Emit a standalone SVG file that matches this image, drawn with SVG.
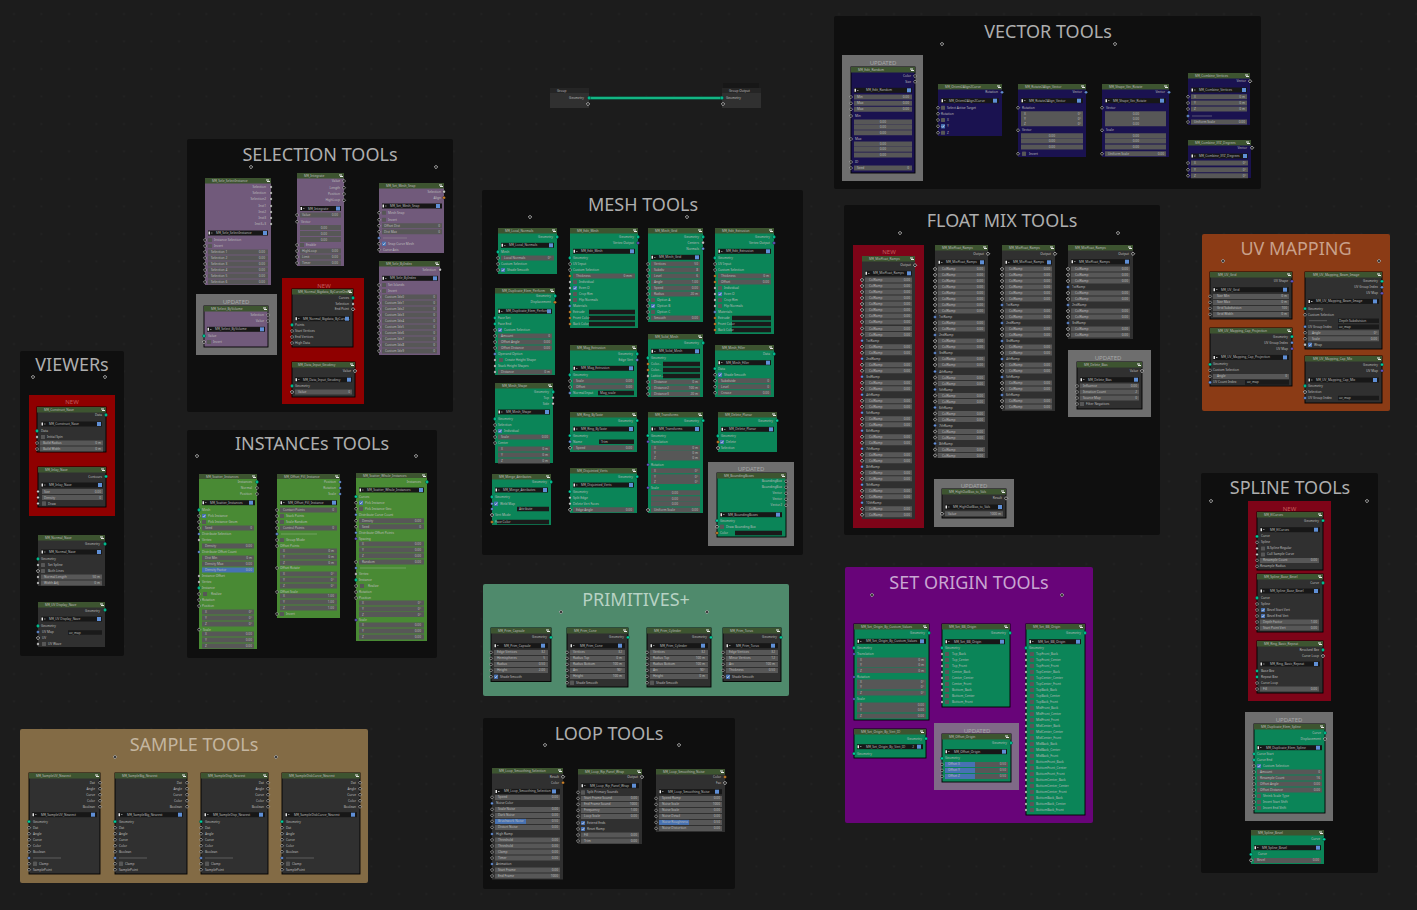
<svg xmlns="http://www.w3.org/2000/svg" width="1417" height="910" viewBox="0 0 1417 910">
<style>
text{font-family:"Noto Sans","Liberation Sans",sans-serif}
.x{font-size:18px;text-anchor:middle;fill:#aeaeae}
.u{font-size:6px;text-anchor:middle;fill:#a8a8a8}
.e{font-size:6px;text-anchor:middle;fill:#c25b5b}
.t,.l,.v{font-size:3.2px;fill:#bdbdbd}
.v{text-anchor:end}
.h{fill:#3d5430}
.d{fill:#303030}.p{fill:#715a7b}.i{fill:#498a34}.m{fill:#0b8558}.n{fill:#1a1250}
.o{stroke:#000;stroke-width:.9}
.s{fill:#171717}
.R,.F,.A,.D,.G,.B,.W,.Y,.Q,.C,.K{fill:none}
.R{stroke:#575757;stroke-width:5}
.F{stroke:#1a1a1a;stroke-width:4.6}
.A{stroke:#4772b3;stroke-width:5}
.D{marker:url(#d)}.G{marker:url(#g)}.B{marker:url(#b)}.W{marker:url(#w)}.Y{marker:url(#y)}.Q{marker:url(#q)}.C{marker:url(#c)}.K{marker:url(#k)}
</style>
<defs>
<pattern id="bg" width="27.5" height="27.5" patternUnits="userSpaceOnUse"><rect width="27.5" height="27.5" fill="#1c1c1c"/><circle cx="14" cy="14" r="1" fill="#232323"/></pattern>
<marker id="d" markerUnits="userSpaceOnUse" markerWidth="5" markerHeight="5" refX="2.5" refY="2.5"><path d="M2.5 .8L4.2 2.5 2.5 4.2 .8 2.5Z" fill="#222" stroke="#d8d8d8" stroke-width=".5"/></marker>
<marker id="g" markerUnits="userSpaceOnUse" markerWidth="5" markerHeight="5" refX="2.5" refY="2.5"><circle cx="2.5" cy="2.5" r="1.4" fill="#00d6a3" stroke="#111" stroke-width=".3"/></marker>
<marker id="b" markerUnits="userSpaceOnUse" markerWidth="5" markerHeight="5" refX="2.5" refY="2.5"><circle cx="2.5" cy="2.5" r="1.3" fill="#6d9be8" stroke="#111" stroke-width=".3"/></marker>
<marker id="w" markerUnits="userSpaceOnUse" markerWidth="5" markerHeight="5" refX="2.5" refY="2.5"><circle cx="2.5" cy="2.5" r="1.2" fill="#dcdcdc" stroke="#111" stroke-width=".3"/></marker>
<marker id="y" markerUnits="userSpaceOnUse" markerWidth="5" markerHeight="5" refX="2.5" refY="2.5"><circle cx="2.5" cy="2.5" r="1.3" fill="#d88a2e" stroke="#111" stroke-width=".3"/></marker>
<marker id="q" markerUnits="userSpaceOnUse" markerWidth="5" markerHeight="5" refX="2.5" refY="2.5"><circle cx="2.5" cy="2.5" r="1.3" fill="#6a5ad0" stroke="#111" stroke-width=".3"/></marker>
<marker id="c" markerUnits="userSpaceOnUse" markerWidth="5" markerHeight="5" refX="2.5" refY="2.5"><rect x=".5" y=".5" width="4" height="4" rx=".5" fill="#575757"/></marker>
<marker id="k" markerUnits="userSpaceOnUse" markerWidth="5" markerHeight="5" refX="2.5" refY="2.5"><rect x=".5" y=".5" width="4" height="4" rx=".5" fill="#4772b3"/><path d="M1.3 2.6L2.3 3.6 3.8 1.4" fill="none" stroke="#fff" stroke-width=".6"/></marker>
<path id="i" d="M1 1.5h3v1h-3zM2 3h3v1h-3z" fill="#e8e8e8"/>
<path id="pp" d="M.5 1h1.5v3h-1.5zM3 2.2h1.5v.6h-1.5z" fill="#e8e8e8"/>
<rect id="qq" y=".5" width="4" height="4" fill="#5f8fd6"/>
<g id="r5"><path class="D" d="M0 0h.01"/><path class="R" d="M3 0H50"/><text class="l" x="7" y="1">ColRamp</text><text class="v" x="48" y="1">0.00</text></g>
<g id="r6"><path class="D" d="M0 0h.01"/><path class="R" d="M3 0H62"/><text class="l" x="7" y="1">ColRamp</text><text class="v" x="60" y="1">0.00</text></g>
<g id="m5"><path class="B" d="M0 0h.01"/><use href="#r5" y="6"/><use href="#r5" y="12"/></g>
<g id="m6"><path class="B" d="M0 0h.01"/><use href="#r6" y="6"/><use href="#r6" y="12"/></g>
<g id="sm"><path class="G" d="M0 48.700h.01"/><path class="D" d="M0 54.700V60.700V66.700V72.700V78.700"/><path class="B" d="M0 85h.01"/><path class="D" d="M0 90.700V96.700"/><path class="C" d="M6 90.700h.01"/><path d="M4 85H32" stroke="#888" stroke-width=".5"/><text class="l"><tspan x="4" y="49.700">Geometry</tspan><tspan x="4" y="55.700">Dat</tspan><tspan x="4" y="61.700">Angle</tspan><tspan x="4" y="67.700">Curve</tspan><tspan x="4" y="73.700">Color</tspan><tspan x="4" y="79.700">Boolean</tspan><tspan x="10" y="91.700">Clamp</tspan><tspan x="4" y="97.700">SamplePoint</tspan></text></g>
</defs>
<rect width="1417" height="910" fill="url(#bg)"/>
<g id="frames">
<rect x="20" y="351" width="104" height="305" rx="2" fill="#0f0f0f"/>
<rect x="187" y="139" width="266" height="273" rx="2" fill="#0f0f0f"/>
<rect x="187" y="430" width="250" height="228" rx="2" fill="#0f0f0f"/>
<rect x="482" y="190" width="321" height="365" rx="2" fill="#0f0f0f"/>
<rect x="834" y="16" width="427" height="173" rx="2" fill="#0f0f0f"/>
<rect x="844" y="205" width="316" height="330" rx="2" fill="#0f0f0f"/>
<rect x="1202" y="234" width="188" height="177" rx="2" fill="#8b3b15"/>
<rect x="1201" y="473" width="177" height="400" rx="2" fill="#0f0f0f"/>
<rect x="845" y="567" width="248" height="256" rx="2" fill="#680479"/>
<rect x="483" y="584" width="306" height="112" rx="2" fill="#4f8a6c"/>
<rect x="483" y="718" width="252" height="171" rx="2" fill="#0f0f0f"/>
<rect x="20" y="729" width="348" height="154" rx="2" fill="#836b45"/>
<text class="x" x="72" y="371">VIEWERs</text>
<text class="x" x="320" y="161">SELECTION TOOLs</text>
<text class="x" x="312" y="450">INSTANCEs TOOLs</text>
<text class="x" x="643" y="211">MESH TOOLs</text>
<text class="x" x="1048" y="38">VECTOR TOOLs</text>
<text class="x" x="1002" y="227">FLOAT MIX TOOLs</text>
<text class="x" x="1296" y="255" style="fill:#c9a08a">UV MAPPING</text>
<text class="x" x="1290" y="494">SPLINE TOOLs</text>
<text class="x" x="969" y="589" style="fill:#c9a6d2">SET ORIGIN TOOLs</text>
<text class="x" x="636" y="606" style="fill:#b7d2c4">PRIMITIVES+</text>
<text class="x" x="609" y="740">LOOP TOOLs</text>
<text class="x" x="194" y="751" style="fill:#c4b6a0">SAMPLE TOOLs</text>
<rect x="29" y="395" width="86" height="121" fill="#8f0000"/><text class="e" x="72" y="404">NEW</text>
<rect x="282" y="278" width="82" height="126" fill="#8f0000"/><text class="e" x="324" y="288">NEW</text>
<rect x="853" y="245" width="71" height="283" fill="#7e0418"/><text class="e" x="889" y="254">NEW</text>
<rect x="1248" y="501" width="83" height="200" fill="#7e0418"/><text class="e" x="1289.5" y="511">NEW</text>
<rect x="196" y="294" width="81" height="61" fill="#6e6e6e"/><text class="u" x="236" y="304">UPDATED</text>
<rect x="708" y="462" width="86" height="84" fill="#6e6e6e"/><text class="u" x="751" y="471">UPDATED</text>
<rect x="842" y="55" width="81" height="126" fill="#6e6e6e"/><text class="u" x="883" y="65">UPDATED</text>
<rect x="1068" y="350" width="83" height="67" fill="#6e6e6e"/><text class="u" x="1108" y="360">UPDATED</text>
<rect x="934" y="479" width="80" height="48" fill="#6e6e6e"/><text class="u" x="974" y="488">UPDATED</text>
<rect x="1245" y="712" width="88" height="109" fill="#6e6e6e"/><text class="u" x="1289" y="722">UPDATED</text>
<rect x="934" y="723" width="85" height="67" fill="#7f6a87"/><text class="u" x="977" y="733">UPDATED</text>
<path class="D" d="M33 377h.01M105 377h.01M251 167h.01M436 167h.01M197 456h.01M416 456h.01M530 217h.01M687 217h.01M942 44h.01M1115 44h.01M900 233h.01M1118 233h.01M1223 261h.01M1379 261h.01M1211 501h.01M1367 501h.01M872 595h.01M1062 595h.01M561 612h.01M707 612h.01M545 745h.01M679 745h.01M115 757h.01M276 757h.01"/>
</g>
<g id="connectors"><path d="M589 98H722" stroke="#0a5c46" stroke-width="3.4"/><path d="M589 98H722" stroke="#13b583" stroke-width="2"/></g>
<g id="group-in" transform="translate(550,88)"><rect class="d" width="39" height="20"/><rect width="39" height="5" fill="#252525"/><text class="t" x="7" y="3.800">Group</text><text class="v" x="34" y="11">Geometry</text><path class="G" d="M39 10h.01"/><path class="D" d="M38 16h.01"/></g>
<g id="group-out" transform="translate(722,88)"><rect x="1" y="-5" width="36" height="5" class="s"/><rect class="d" width="39" height="20"/><rect width="39" height="5" fill="#252525"/><text class="t" x="7" y="3.800">Group Output</text><text class="l" x="4" y="11">Geometry</text><path class="G" d="M0 10h.01"/><path class="D" d="M1 16h.01"/></g>

<g id="v1" transform="translate(37,407)"><rect class="d o" width="69" height="45"/><rect class="h" width="69" height="5.5"/><text class="t" x="7" y="3.8">MR_Construct_Nave</text><use href="#i" x="63"/><rect class="s" x="4" y="14.5" width="61" height="5"/><use href="#pp" x="4" y="14.5"/><text class="t" x="12" y="18">MR_Construct_Nave</text><use href="#qq" x="60" y="14.5"/><path class="R" d="M3 36H66M3 42H66"/><path class="C" d="M6 30h.01"/><path class="G" d="M69 8h.01M0 24h.01"/><path class="W" d="M0 30h.01"/><path class="D" d="M0 36V42"/><text class="v"><tspan x="65" y="9">Data</tspan><tspan x="64" y="37">0 m</tspan><tspan x="64" y="43">0 m</tspan></text><text class="l"><tspan x="4" y="25">Data</tspan><tspan x="10" y="31">Initial Spin</tspan><tspan x="6" y="37">Build Radius</tspan><tspan x="6" y="43">Build Width</tspan></text></g>
<g id="v2" transform="translate(38,467)"><rect class="d o" width="68" height="40"/><rect class="h" width="68" height="5.5"/><text class="t" x="7" y="3.8">MR_Inlay_Nave</text><use href="#i" x="62"/><rect class="s" x="3" y="15.5" width="62" height="5"/><use href="#pp" x="3" y="15.5"/><text class="t" x="11" y="19">MR_Inlay_Nave</text><use href="#qq" x="60" y="15.5"/><path class="R" d="M4 24.5H65M4 30.5H65"/><path class="C" d="M6 36.5h.01"/><path class="G" d="M68 9.5h.01"/><path class="W" d="M0 24.5V30.5V36.5"/><text class="v"><tspan x="64" y="10.500">Contours</tspan><tspan x="63" y="25.5">0.00</tspan><tspan x="63" y="31.5">0</tspan></text><text class="l"><tspan x="6" y="25.5">Size</tspan><tspan x="6" y="31.5">Density</tspan><tspan x="10" y="37.5">Draw</tspan></text></g>
<g id="v3" transform="translate(38,535)"><rect class="d" width="67" height="51"/><rect class="h" width="67" height="5.5"/><text class="t" x="7" y="3.8">MR_Normal_Nave</text><use href="#i" x="61"/><rect class="s" x="3" y="14.5" width="61" height="5"/><use href="#pp" x="3" y="14.5"/><text class="t" x="11" y="18">MR_Normal_Nave</text><use href="#qq" x="59" y="14.5"/><path class="R" d="M3 42H64M3 48H64"/><path class="C" d="M5 30V36"/><path class="G" d="M67 9h.01M0 24h.01"/><path class="W" d="M0 30V42V48"/><path class="D" d="M0 36h.01"/><text class="v"><tspan x="62" y="10">Geometry</tspan><tspan x="62" y="43">50 m</tspan><tspan x="62" y="49">0 m</tspan></text><text class="l"><tspan x="3" y="25">Geometry</tspan><tspan x="10" y="31">Set Spline</tspan><tspan x="10" y="37">Both Lines</tspan><tspan x="6" y="43">Normal Length</tspan><tspan x="6" y="49">Width Adj</tspan></text></g>
<g id="v4" transform="translate(38,602)"><rect class="d" width="67" height="45"/><rect class="h" width="67" height="5.5"/><text class="t" x="7" y="3.8">MR_UV Display_Nave</text><use href="#i" x="61"/><rect class="s" x="3" y="14.5" width="61" height="5"/><use href="#pp" x="3" y="14.5"/><text class="t" x="11" y="18">MR_UV Display_Nave</text><use href="#qq" x="59" y="14.5"/><path class="F" d="M30 30.500H64"/><path class="C" d="M6 42h.01"/><path class="G" d="M67 8h.01M0 24h.01"/><path class="B" d="M0 30h.01"/><path class="D" d="M0 36h.01"/><path class="W" d="M0 42h.01"/><text class="v" x="62" y="10">Geometry</text><text class="l"><tspan x="3" y="25">Geometry</tspan><tspan x="4" y="31">UV Map</tspan><tspan x="31" y="31.500">uv_map</tspan><tspan x="4" y="37">UV</tspan><tspan x="10" y="43">UV Wave</tspan></text></g>

<g id="s1" transform="translate(205,178)"><rect class="p" width="66" height="107"/><rect class="h" width="66" height="5.5"/><text class="t" x="7" y="3.8">MR_Sele_SelectInstance</text><use href="#i" x="60"/><rect class="s" x="3" y="52.5" width="60" height="5"/><use href="#pp" x="3" y="52.5"/><text class="t" x="11" y="56">MR_Sele_SelectInstance</text><use href="#qq" x="58" y="52.5"/><path d="M33 71.5V107" stroke="#575757" stroke-width="60" stroke-dasharray="5 1" fill="none"/><path class="C" d="M5 62V68"/><path class="W" d="M66 9V15V21V28V34V40V46"/><path class="D" d="M0 62V68V74V80V86V92V98V104"/><text class="v"><tspan x="61" y="10">Selection</tspan><tspan x="61" y="16">Selection</tspan><tspan x="61" y="22">Selection2</tspan><tspan x="61" y="29">Inst1</tspan><tspan x="61" y="35">Inst2</tspan><tspan x="61" y="41">Inst3</tspan><tspan x="61" y="47">Inst3+3</tspan><tspan x="60" y="75">0.00</tspan><tspan x="60" y="81">0.00</tspan><tspan x="60" y="87">0.00</tspan><tspan x="60" y="93">0.00</tspan><tspan x="60" y="99">0.00</tspan><tspan x="60" y="105">0.00</tspan></text><text class="l"><tspan x="9" y="63">Instance Selection</tspan><tspan x="9" y="69">Invert</tspan><tspan x="6" y="75">Selection 1</tspan><tspan x="6" y="81">Selection 2</tspan><tspan x="6" y="87">Selection 3</tspan><tspan x="6" y="93">Selection 4</tspan><tspan x="6" y="99">Selection 5</tspan><tspan x="6" y="105">Selection 6</tspan></text></g>
<g id="s2" transform="translate(297,173)"><rect class="p" width="47" height="93"/><rect class="h" width="47" height="5.5"/><text class="t" x="7" y="3.8">MR_Integrate</text><use href="#i" x="41"/><rect class="s" x="3" y="33" width="41" height="5"/><use href="#pp" x="3" y="33"/><text class="t" x="11" y="36.500">MR_Integrate</text><use href="#qq" x="39" y="33"/><path class="R" d="M3 42H44M3 54.500H44M3 60.500H44M3 66.500H44M3 78H44M3 84H44M3 90H44"/><path class="C" d="M5 72h.01"/><path class="D" d="M47 8V14.700V21V27.300M0 42V48.700V72V78V84V90"/><text class="v"><tspan x="43" y="9">Value</tspan><tspan x="43" y="15.700">Length</tspan><tspan x="43" y="22">Position</tspan><tspan x="43" y="28.300">HighLoop</tspan><tspan x="41" y="43">0.00</tspan><tspan x="30" y="55.500">0.00</tspan><tspan x="30" y="61.500">0.00</tspan><tspan x="30" y="67.500">0.00</tspan><tspan x="41" y="79">0.00</tspan><tspan x="41" y="85">0.00</tspan><tspan x="41" y="91">0.00</tspan></text><text class="l"><tspan x="5" y="43">Value</tspan><tspan x="4" y="49.700">Vector</tspan><tspan x="9" y="73">Enable</tspan><tspan x="5" y="79">HighLoop</tspan><tspan x="5" y="85">Limit</tspan><tspan x="5" y="91">Timer</tspan></text></g>
<g id="s3" transform="translate(379,183)"><rect class="p" width="65" height="70"/><rect class="h" width="65" height="5.5"/><text class="t" x="7" y="3.8">MR_Set_Mesh_Snap</text><use href="#i" x="59"/><rect class="s" x="3" y="20.500" width="60" height="5"/><use href="#pp" x="3" y="20.500"/><text class="t" x="11" y="24">MR_Set_Mesh_Snap</text><use href="#qq" x="57" y="20.500"/><path class="R" d="M3 42.700H63M3 48.700H63"/><path class="C" d="M5 29.700V36.700"/><path class="K" d="M5 60.700h.01"/><path class="W" d="M65 8.700h.01"/><path class="Y" d="M65 14.700h.01"/><path class="D" d="M0 29.700V36.700V42.700V48.700V60.700V66.700"/><path class="B" d="M0 55h.01"/><path d="M4 55H28" stroke="#999" stroke-width=".5"/><text class="v"><tspan x="62" y="9.700">Selection</tspan><tspan x="62" y="15.700">Align</tspan><tspan x="61" y="43.700">0</tspan><tspan x="61" y="49.700">0</tspan></text><text class="l"><tspan x="9" y="30.700">Mesh Snap</tspan><tspan x="9" y="37.700">Invert</tspan><tspan x="5" y="43.700">Offset Dist</tspan><tspan x="5" y="49.700">Dist Max</tspan><tspan x="9" y="61.700">Snap Curve Mesh</tspan><tspan x="4" y="67.700">Curve Axis</tspan></text></g>
<g id="s4" transform="translate(379,261)"><rect class="p" width="61" height="94"/><rect class="h" width="61" height="5.5"/><text class="t" x="7" y="3.8">MR_Sele_ByIndex</text><use href="#i" x="55"/><rect class="s" x="3" y="14.800" width="56" height="5"/><use href="#pp" x="3" y="14.800"/><text class="t" x="11" y="18.300">MR_Sele_ByIndex</text><use href="#qq" x="54" y="14.800"/><path d="M30.500 33.500V93" stroke="#575757" stroke-width="55" stroke-dasharray="5 1" fill="none"/><path class="C" d="M5 24V30"/><path class="W" d="M61 8.700h.01"/><path class="D" d="M0 24V30V36V42V48V54V60V66V72V78V84V90"/><text class="v"><tspan x="57" y="9.700">Selection</tspan><tspan x="56" y="37">0</tspan><tspan x="56" y="43">0</tspan><tspan x="56" y="49">0</tspan><tspan x="56" y="55">0</tspan><tspan x="56" y="61">0</tspan><tspan x="56" y="67">0</tspan><tspan x="56" y="73">0</tspan><tspan x="56" y="79">0</tspan><tspan x="56" y="85">0</tspan><tspan x="56" y="91">0</tspan></text><text class="l"><tspan x="9" y="25">Set Islands</tspan><tspan x="9" y="31">Invert</tspan><tspan x="6" y="37">Custom Idx0</tspan><tspan x="6" y="43">Custom Idx1</tspan><tspan x="6" y="49">Custom Idx2</tspan><tspan x="6" y="55">Custom Idx3</tspan><tspan x="6" y="61">Custom Idx4</tspan><tspan x="6" y="67">Custom Idx5</tspan><tspan x="6" y="73">Custom Idx6</tspan><tspan x="6" y="79">Custom Idx7</tspan><tspan x="6" y="85">Custom Idx8</tspan><tspan x="6" y="91">Custom Idx9</tspan></text></g>
<g id="s5" transform="translate(204,306)"><rect class="p o" width="64" height="41"/><rect class="h" width="64" height="5.5"/><text class="t" x="7" y="3.8">MR_Select_ByVolume</text><use href="#i" x="58"/><rect class="s" x="3" y="20.800" width="58" height="5"/><use href="#pp" x="3" y="20.800"/><text class="t" x="11" y="24.300">MR_Select_ByVolume</text><use href="#qq" x="56" y="20.800"/><path class="C" d="M5 36h.01"/><path class="D" d="M64 9V15M0 36h.01"/><path class="G" d="M0 30h.01"/><text class="v"><tspan x="60" y="10">Selection</tspan><tspan x="60" y="16">Value</tspan></text><text class="l"><tspan x="4" y="31">Value</tspan><tspan x="9" y="37">Invert</tspan></text></g>
<g id="s6" transform="translate(292,289)"><rect class="d o" width="61" height="58"/><rect class="h" width="61" height="5.5"/><text class="t" x="6" y="3.800">MR_Normal_Bigdata_ByCurveOrder</text><use href="#i" x="55"/><rect class="s" x="3" y="27.200" width="55" height="5"/><use href="#pp" x="3" y="27.200"/><text class="t" x="11" y="30.700">MR_Normal_Bigdata_ByCurve...</text><use href="#qq" x="53" y="27.200"/><path class="G" d="M61 9h.01M0 36h.01"/><path class="W" d="M61 15h.01"/><path class="D" d="M61 20.300h.01M0 42V48V54"/><text class="v"><tspan x="57" y="10">Curves</tspan><tspan x="57" y="16">Selection</tspan><tspan x="57" y="21.300">End Point</tspan></text><text class="l"><tspan x="3" y="37">Points</tspan><tspan x="3" y="43">Start Vertices</tspan><tspan x="3" y="49">End Vertices</tspan><tspan x="3" y="55">High Data</tspan></text></g>
<g id="s7" transform="translate(292,362)"><rect class="d o" width="63" height="35"/><rect class="h" width="63" height="5.5"/><text class="t" x="6" y="3.800">MR_Data_Input_Geodesy</text><use href="#i" x="57"/><rect class="s" x="3" y="15.200" width="57" height="5"/><use href="#pp" x="3" y="15.200"/><text class="t" x="11" y="18.700">MR_Data_Input_Geodesy</text><use href="#qq" x="55" y="15.200"/><path class="R" d="M3 30H60"/><path class="G" d="M0 24h.01"/><path class="D" d="M63 9h.01M0 30h.01"/><text class="v"><tspan x="59" y="10">Value</tspan><tspan x="58" y="31">0</tspan></text><text class="l"><tspan x="3" y="25">Geometry</tspan><tspan x="6" y="31">Value</tspan></text></g>

<g id="i1" transform="translate(199,474)"><rect class="i" width="58" height="175"/><rect class="h" width="58" height="5"/><text class="t" x="7" y="3.800">MR_Scatter_Instances</text><use href="#i" x="52"/><rect class="s" x="3" y="26.200" width="53" height="5"/><use href="#pp" x="3" y="26.200"/><text class="t" x="11" y="29.700">MR_Scatter_Instances</text><use href="#qq" x="50" y="26.200"/><path class="R" d="M3 54H55M3 72H55M3 84H55M3 90H55M3 138H55M3 144H55M3 150H55M3 160H55M3 166H55M3 172H55"/><path class="A" d="M3 96H55"/><path class="K" d="M5 42h.01"/><path class="C" d="M5 48h.01M6 120h.01"/><path class="G" d="M58 8h.01M0 36h.01M0 114h.01"/><path class="D" d="M58 14V20M0 42V48V54V120V126V132V155.600"/><path class="B" d="M0 60V78"/><path class="W" d="M0 66V102V108"/><text class="v"><tspan x="53" y="9">Instances</tspan><tspan x="53" y="15">Normal</tspan><tspan x="53" y="21">Position</tspan><tspan x="53" y="55">0</tspan><tspan x="53" y="73">0.00</tspan><tspan x="53" y="85">0 m</tspan><tspan x="53" y="91">0.00</tspan><tspan x="53" y="97">0.00</tspan><tspan x="53" y="139">0°</tspan><tspan x="53" y="145">0°</tspan><tspan x="53" y="151">0°</tspan><tspan x="53" y="161">0.00</tspan><tspan x="53" y="167">0.00</tspan><tspan x="53" y="173">0.00</tspan></text><text class="l"><tspan x="3" y="37">Mesh</tspan><tspan x="9" y="43">Pick Instance</tspan><tspan x="9" y="49">Pick Instance Geom</tspan><tspan x="6" y="55">Seed</tspan><tspan x="3" y="61">Distribute Selection</tspan><tspan x="3" y="67">Vertex</tspan><tspan x="6" y="73">Density</tspan><tspan x="3" y="79">Distribute Offset Count</tspan><tspan x="6" y="85">Dist Min</tspan><tspan x="6" y="91">Density Max</tspan><tspan x="6" y="97">Density Factor</tspan><tspan x="3" y="103">Instance Offset</tspan><tspan x="3" y="109">Vertex</tspan><tspan x="3" y="115">Instance</tspan><tspan x="12" y="121">Realize</tspan><tspan x="3" y="127">Rotation</tspan><tspan x="3" y="133">Position</tspan><tspan x="6" y="139">X</tspan><tspan x="6" y="145">Y</tspan><tspan x="6" y="151">Z</tspan><tspan x="4" y="156.600">Scale</tspan><tspan x="6" y="161">X</tspan><tspan x="6" y="167">Y</tspan><tspan x="6" y="173">Z</tspan></text></g>
<g id="i2" transform="translate(277,474)"><rect class="i" width="63" height="144"/><rect class="h" width="63" height="5"/><text class="t" x="7" y="3.800">MR_Offset_Pill_Instance</text><use href="#i" x="57"/><rect class="s" x="3" y="26.200" width="57" height="5"/><use href="#pp" x="3" y="26.200"/><text class="t" x="11" y="29.700">MR_Offset_Pill_Instance</text><use href="#qq" x="55" y="26.200"/><path class="R" d="M3 36H60M3 54H60M3 77H60M3 83H60M3 89H60M3 100H60M3 106H60M3 112H60M3 122H60M3 128H60M3 134H60"/><path class="C" d="M5 42V48M5 66V140"/><path class="B" d="M63 8V14V20M0 60h.01"/><path class="D" d="M0 36V42V48V54V66V72V94V118V140"/><path d="M4 60H40" stroke="#9bb98f" stroke-width=".5"/><text class="v"><tspan x="59" y="9">Position</tspan><tspan x="59" y="15">Rotation</tspan><tspan x="59" y="21">Scale</tspan><tspan x="57" y="37">0</tspan><tspan x="57" y="55">0</tspan><tspan x="57" y="78">0 m</tspan><tspan x="57" y="84">0 m</tspan><tspan x="57" y="90">0 m</tspan><tspan x="57" y="101">0°</tspan><tspan x="57" y="107">0°</tspan><tspan x="57" y="113">0°</tspan><tspan x="57" y="123">1.00</tspan><tspan x="57" y="129">1.00</tspan><tspan x="57" y="135">1.00</tspan></text><text class="l"><tspan x="6" y="37">Contact Points</tspan><tspan x="9" y="43">Stack Points</tspan><tspan x="9" y="49">Scale Random</tspan><tspan x="6" y="55">Control Points</tspan><tspan x="9" y="67">Group Mode</tspan><tspan x="3" y="73">Offset Points</tspan><tspan x="6" y="78">X</tspan><tspan x="6" y="84">Y</tspan><tspan x="6" y="90">Z</tspan><tspan x="3" y="95">Offset Rotate</tspan><tspan x="6" y="101">X</tspan><tspan x="6" y="107">Y</tspan><tspan x="6" y="113">Z</tspan><tspan x="3" y="119">Offset Scale</tspan><tspan x="6" y="123">X</tspan><tspan x="6" y="129">Y</tspan><tspan x="6" y="135">Z</tspan><tspan x="9" y="141">Invert</tspan></text></g>
<g id="i3" transform="translate(356,473)"><rect class="i" width="71" height="168"/><rect class="h" width="71" height="5"/><text class="t" x="7" y="3.800">MR_Scatter_Whole_Instances</text><use href="#i" x="65"/><rect class="s" x="3" y="14.500" width="65" height="5"/><use href="#pp" x="3" y="14.500"/><text class="t" x="11" y="18">MR_Scatter_Whole_Instances</text><use href="#qq" x="63" y="14.500"/><path class="R" d="M3 47.700H68M3 53.700H68M3 71H68M3 77H68M3 82.700H68M3 89H68M3 130H68M3 136H68M3 141.500H68M3 152H68M3 158H68M3 164H68"/><path class="K" d="M5 29.700h.01"/><path class="C" d="M5 35.700h.01M6 113h.01"/><path class="G" d="M71 9h.01M0 23.700h.01M0 107h.01"/><path class="B" d="M0 41.700V59.700V95"/><path class="Q" d="M0 65.700h.01M0 147h.01"/><path class="W" d="M0 101h.01"/><path class="D" d="M0 29.700V35.700V47.700V53.700V89V113V119V125"/><path d="M4 95H50" stroke="#9bb98f" stroke-width=".5"/><text class="v"><tspan x="65" y="10">Instances</tspan><tspan x="65" y="48.700">0.00</tspan><tspan x="65" y="54.700">0</tspan><tspan x="65" y="72">0.00</tspan><tspan x="65" y="78">0.00</tspan><tspan x="65" y="83.700">0.00</tspan><tspan x="65" y="90">0.00</tspan><tspan x="65" y="131">0°</tspan><tspan x="65" y="137">0°</tspan><tspan x="65" y="142.500">0°</tspan><tspan x="65" y="153">0.00</tspan><tspan x="65" y="159">0.00</tspan><tspan x="65" y="165">0.00</tspan></text><text class="l"><tspan x="3" y="24.700">Curves</tspan><tspan x="9" y="30.700">Pick Instance</tspan><tspan x="9" y="36.700">Pick Instance Geo</tspan><tspan x="3" y="42.700">Distribute Curve Count</tspan><tspan x="6" y="48.700">Density</tspan><tspan x="6" y="54.700">Seed</tspan><tspan x="3" y="60.700">Distribute Offset Points</tspan><tspan x="3" y="66.700">Spacing</tspan><tspan x="6" y="72">X</tspan><tspan x="6" y="78">Y</tspan><tspan x="6" y="83.700">Z</tspan><tspan x="6" y="90">Random</tspan><tspan x="3" y="102">Vertex</tspan><tspan x="3" y="108">Instance</tspan><tspan x="12" y="114">Realize</tspan><tspan x="3" y="120">Rotation</tspan><tspan x="3" y="126">Position</tspan><tspan x="6" y="131">X</tspan><tspan x="6" y="137">Y</tspan><tspan x="6" y="142.500">Z</tspan><tspan x="3" y="148">Scale</tspan><tspan x="6" y="153">X</tspan><tspan x="6" y="159">Y</tspan><tspan x="6" y="165">Z</tspan></text></g>

<g id="m1" transform="translate(498,228)"><rect class="m" width="59" height="46"/><rect class="h" width="59" height="5.500"/><text class="t" x="7" y="3.800">MR_Local_Normals</text><use href="#i" x="53"/><rect class="s" x="3" y="14.800" width="53" height="5"/><use href="#pp" x="3" y="14.800"/><text class="t" x="11" y="18.300">MR_Local_Normals</text><use href="#qq" x="51" y="14.800"/><path class="R" d="M3 30H56"/><path class="K" d="M5 42h.01"/><path class="G" d="M59 9h.01M0 24h.01"/><path class="D" d="M0 30V36V42"/><text class="v"><tspan x="55" y="10">Geometry</tspan><tspan x="53" y="31">0°</tspan></text><text class="l"><tspan x="3" y="25">Mesh</tspan><tspan x="6" y="31">Local Normals</tspan><tspan x="3" y="37">Custom Selection</tspan><tspan x="9" y="43">Shade Smooth</tspan></text></g>
<g id="m2" transform="translate(495,288)"><rect class="m" width="60" height="87"/><rect class="h" width="60" height="5.500"/><text class="t" x="7" y="3.800">MR_Duplicate_Elem_Perform</text><use href="#i" x="54"/><rect class="s" x="3" y="20.800" width="54" height="5"/><use href="#pp" x="3" y="20.800"/><text class="t" x="11" y="24.300">MR_Duplicate_Elem_Perform</text><use href="#qq" x="52" y="20.800"/><path class="R" d="M3 48H57M3 54H57M3 60H57M3 84H57"/><path class="K" d="M5 42h.01"/><path class="C" d="M6 72h.01"/><path class="G" d="M60 8h.01M0 30V36"/><path class="Y" d="M60 14.300h.01"/><path class="D" d="M0 42V48V54V60"/><path class="B" d="M0 66h.01"/><path class="W" d="M0 72V78V84"/><text class="v"><tspan x="56" y="9">Geometry</tspan><tspan x="56" y="15.300">Displacement</tspan><tspan x="55" y="49">0</tspan><tspan x="55" y="55">0.00</tspan><tspan x="55" y="61">0.00</tspan><tspan x="55" y="85">0 m</tspan></text><text class="l"><tspan x="3" y="31">Face Set</tspan><tspan x="3" y="37">Face End</tspan><tspan x="9" y="43">Custom Selection</tspan><tspan x="6" y="49">Amount</tspan><tspan x="6" y="55">Offset Angle</tspan><tspan x="6" y="61">Offset Distance</tspan><tspan x="3" y="67">Operand Option</tspan><tspan x="10" y="73">Create Height Shape</tspan><tspan x="3" y="79">Stack Height Shapes</tspan><tspan x="6" y="85">Distance</tspan></text></g>
<g id="m3" transform="translate(495,383)"><rect class="m" width="58" height="80"/><rect class="h" width="58" height="5.500"/><text class="t" x="7" y="3.800">MR_Mesh_Shape</text><use href="#i" x="52"/><rect class="s" x="3" y="26.500" width="52" height="5"/><use href="#pp" x="3" y="26.500"/><text class="t" x="11" y="30">MR_Mesh_Shape</text><use href="#qq" x="50" y="26.500"/><path class="R" d="M3 54H55M3 66H55M3 72H55M3 78H55"/><path class="K" d="M5 48h.01"/><path class="G" d="M58 9h.01M0 36h.01"/><path class="W" d="M58 14.700V20.700"/><path class="D" d="M0 42V48V54V60"/><text class="v"><tspan x="54" y="10">Geometry</tspan><tspan x="54" y="15.700">Top</tspan><tspan x="54" y="21.700">Side</tspan><tspan x="53" y="55">0.00</tspan><tspan x="53" y="67">0 m</tspan><tspan x="53" y="73">0 m</tspan><tspan x="53" y="79">0 m</tspan></text><text class="l"><tspan x="3" y="37">Geometry</tspan><tspan x="3" y="43">Selection</tspan><tspan x="9" y="49">Individual</tspan><tspan x="6" y="55">Scale</tspan><tspan x="3" y="61">Center</tspan><tspan x="6" y="67">X</tspan><tspan x="6" y="73">Y</tspan><tspan x="6" y="79">Z</tspan></text></g>
<g id="m4" transform="translate(492,474)"><rect class="m" width="59" height="51"/><rect class="h" width="59" height="5.500"/><text class="t" x="7" y="3.800">MR_Merge_Attributes</text><use href="#i" x="53"/><rect class="s" x="3" y="13.500" width="53" height="5"/><use href="#pp" x="3" y="13.500"/><text class="t" x="11" y="17">MR_Merge_Attributes</text><use href="#qq" x="51" y="13.500"/><path class="F" d="M25 35H57M5 48H57"/><path class="K" d="M4 29.700h.01"/><path class="G" d="M59 8h.01M0 23h.01"/><path class="B" d="M0 29.700V35"/><path class="D" d="M0 41h.01"/><path class="Y" d="M0 48h.01"/><text class="v" x="55" y="9">Geometry</text><text class="l"><tspan x="3" y="24">Geometry</tspan><tspan x="8" y="30.700">Weld Map</tspan><tspan x="27" y="36">Attribute</tspan><tspan x="3" y="42">Vert Mode</tspan><tspan x="3" y="49">Face Color</tspan></text></g>
<g id="m5b" transform="translate(570,228)"><rect class="m" width="68" height="100"/><rect class="h" width="68" height="5.500"/><text class="t" x="7" y="3.800">MR_Edit_Mesh</text><use href="#i" x="62"/><rect class="s" x="3" y="20.800" width="62" height="5"/><use href="#pp" x="3" y="20.800"/><text class="t" x="11" y="24.300">MR_Edit_Mesh</text><use href="#qq" x="60" y="20.800"/><path class="R" d="M3 48H65"/><path class="F" d="M19 84H65M19 90H65M19 96H65"/><path class="C" d="M5 54V66V72"/><path class="K" d="M5 60h.01"/><path class="G" d="M68 9h.01M0 30h.01"/><path class="Q" d="M68 15h.01"/><path class="D" d="M0 36V42"/><path class="Y" d="M0 48V84V90V96"/><path class="W" d="M0 54V60V66V72"/><path class="B" d="M0 78h.01"/><text class="v"><tspan x="64" y="10">Geometry</tspan><tspan x="64" y="16">Vertex Output</tspan><tspan x="62" y="49">0 mm</tspan></text><text class="l"><tspan x="3" y="31">Geometry</tspan><tspan x="3" y="37">UV Input</tspan><tspan x="3" y="43">Custom Selection</tspan><tspan x="6" y="49">Thickness</tspan><tspan x="9" y="55">Individual</tspan><tspan x="9" y="61">Even O</tspan><tspan x="9" y="67">Crop Rim</tspan><tspan x="9" y="73">Flip Normals</tspan><tspan x="3" y="79">Materials</tspan><tspan x="3" y="85">Extrude</tspan><tspan x="3" y="91">Front Color</tspan><tspan x="3" y="97">Back Color</tspan></text></g>
<g id="m6b" transform="translate(570,345)"><rect class="m" width="67" height="52"/><rect class="h" width="67" height="5.500"/><text class="t" x="7" y="3.800">MR_Mag_Extrusion</text><use href="#i" x="61"/><rect class="s" x="3" y="20.800" width="61" height="5"/><use href="#pp" x="3" y="20.800"/><text class="t" x="11" y="24.300">MR_Mag_Extrusion</text><use href="#qq" x="59" y="20.800"/><path class="R" d="M3 36H64M3 42H64"/><path class="F" d="M28 48H64"/><path class="G" d="M67 9h.01M0 30h.01"/><path class="B" d="M67 15h.01M0 48h.01"/><path class="D" d="M0 36V42"/><text class="v"><tspan x="63" y="10">Geometry</tspan><tspan x="63" y="16">Edge Vert</tspan><tspan x="62" y="37">0.00</tspan><tspan x="62" y="43">0.00</tspan></text><text class="l"><tspan x="3" y="31">Geometry</tspan><tspan x="6" y="37">Scale</tspan><tspan x="6" y="43">Offset</tspan><tspan x="3" y="49">Normal Input</tspan><tspan x="30" y="49">Mag_scale</tspan></text></g>
<g id="m7" transform="translate(570,412)"><rect class="m" width="67" height="40"/><rect class="h" width="67" height="5.500"/><text class="t" x="7" y="3.800">MR_Ring_ByTaste</text><use href="#i" x="61"/><rect class="s" x="3" y="14.500" width="61" height="5"/><use href="#pp" x="3" y="14.500"/><text class="t" x="11" y="18">MR_Ring_ByTaste</text><use href="#qq" x="59" y="14.500"/><path class="F" d="M29 29.700H64"/><path class="R" d="M3 35.700H64"/><path class="G" d="M67 8.700h.01M0 23.700h.01"/><path class="B" d="M0 29.700h.01"/><path class="D" d="M0 35.700h.01"/><text class="v"><tspan x="63" y="9.700">Geometry</tspan><tspan x="62" y="36.700">0.00</tspan></text><text class="l"><tspan x="3" y="24.700">Geometry</tspan><tspan x="3" y="30.700">Name</tspan><tspan x="31" y="30.700">Trim</tspan><tspan x="6" y="36.700">Speed</tspan></text></g>
<g id="m8" transform="translate(570,468)"><rect class="m" width="67" height="45"/><rect class="h" width="67" height="5.500"/><text class="t" x="7" y="3.800">MR_Disjointed_Verts</text><use href="#i" x="61"/><rect class="s" x="3" y="14.500" width="61" height="5"/><use href="#pp" x="3" y="14.500"/><text class="t" x="11" y="18">MR_Disjointed_Verts</text><use href="#qq" x="59" y="14.500"/><path class="R" d="M3 41.700H64"/><path class="G" d="M67 8.700h.01M0 23.700h.01"/><path class="W" d="M0 29.700V35.700"/><path class="D" d="M0 41.700h.01"/><text class="v"><tspan x="63" y="9.700">Geometry</tspan><tspan x="62" y="42.700">0.00</tspan></text><text class="l"><tspan x="3" y="24.700">Geometry</tspan><tspan x="3" y="30.700">Split Edge</tspan><tspan x="3" y="36.700">Delete Vert Faces</tspan><tspan x="6" y="42.700">Edge Angle</tspan></text></g>
<g id="m9" transform="translate(648,228)"><rect class="m" width="55" height="94"/><rect class="h" width="55" height="5.500"/><text class="t" x="7" y="3.800">MR_Mech_Grid</text><use href="#i" x="49"/><rect class="s" x="3" y="26.800" width="49" height="5"/><use href="#pp" x="3" y="26.800"/><text class="t" x="11" y="30.300">MR_Mech_Grid</text><use href="#qq" x="47" y="26.800"/><path class="R" d="M3 36H52M3 42H52M3 48H52M3 54H52M3 60H52M3 66H52M3 90H52"/><path class="C" d="M5 72V84"/><path class="K" d="M5 78h.01"/><path class="G" d="M55 9h.01"/><path class="W" d="M55 14.700h.01"/><path class="B" d="M55 20.700h.01"/><path class="D" d="M0 36V42V48V54V60V66V72V78V84V90"/><text class="v"><tspan x="51" y="10">Geometry</tspan><tspan x="51" y="15.700">Centers</tspan><tspan x="51" y="21.700">Normals</tspan><tspan x="50" y="37">50</tspan><tspan x="50" y="43">8</tspan><tspan x="50" y="49">6</tspan><tspan x="50" y="55">1.00</tspan><tspan x="50" y="61">0.00</tspan><tspan x="50" y="67">20 m</tspan><tspan x="50" y="91">0.00</tspan></text><text class="l"><tspan x="6" y="37">Vertices</tspan><tspan x="6" y="43">Subdiv</tspan><tspan x="6" y="49">Level</tspan><tspan x="6" y="55">Angle</tspan><tspan x="6" y="61">Speed</tspan><tspan x="6" y="67">Radius</tspan><tspan x="9" y="73">Option A</tspan><tspan x="9" y="79">Option B</tspan><tspan x="9" y="85">Option C</tspan><tspan x="6" y="91">Smooth</tspan></text></g>
<g id="m10" transform="translate(648,334)"><rect class="m" width="55" height="63"/><rect class="h" width="55" height="5.500"/><text class="t" x="7" y="3.800">MR_Solid_Mesh</text><use href="#i" x="49"/><rect class="s" x="3" y="14.800" width="49" height="5"/><use href="#pp" x="3" y="14.800"/><text class="t" x="11" y="18.300">MR_Solid_Mesh</text><use href="#qq" x="47" y="14.800"/><path class="F" d="M15 30H52M15 36H52M15 42H52"/><path class="R" d="M3 48H52M3 54H52M3 60H52"/><path class="G" d="M55 9h.01M0 24h.01"/><path class="Y" d="M0 30V36"/><path class="W" d="M0 42h.01"/><path class="D" d="M0 48V54V60"/><text class="v"><tspan x="51" y="10">Geometry</tspan><tspan x="50" y="49">0 m</tspan><tspan x="50" y="55">100 m</tspan><tspan x="50" y="61">20 m</tspan></text><text class="l"><tspan x="3" y="25">Geometry</tspan><tspan x="3" y="31">Color...</tspan><tspan x="3" y="37">Color...</tspan><tspan x="3" y="43">Lattice...</tspan><tspan x="6" y="49">Distance</tspan><tspan x="6" y="55">Distance2</tspan><tspan x="6" y="61">Distance3</tspan></text></g>
<g id="m11" transform="translate(648,412)"><rect class="m" width="55" height="101"/><rect class="h" width="55" height="5.500"/><text class="t" x="7" y="3.800">MR_Transforms</text><use href="#i" x="49"/><rect class="s" x="3" y="14.500" width="49" height="5"/><use href="#pp" x="3" y="14.500"/><text class="t" x="11" y="18">MR_Transforms</text><use href="#qq" x="47" y="14.500"/><path class="R" d="M3 35.700H52M3 41H52M3 46H52M3 58.700H52M3 64.700H52M3 69.500H52M3 80.700H52M3 86.700H52M3 92H52M3 98H52"/><path class="G" d="M55 8.700h.01M0 23.700h.01"/><path class="Q" d="M0 29.700V52.700V75.700"/><path class="D" d="M0 98h.01"/><text class="v"><tspan x="51" y="9.700">Geometry</tspan><tspan x="50" y="36.700">0 m</tspan><tspan x="50" y="42">0 m</tspan><tspan x="50" y="47">0 m</tspan><tspan x="50" y="59.700">0°</tspan><tspan x="50" y="65.700">0°</tspan><tspan x="50" y="70.500">0°</tspan><tspan x="30" y="81.700">0.00</tspan><tspan x="30" y="87.700">0.00</tspan><tspan x="30" y="93">0.00</tspan><tspan x="50" y="99">0.00</tspan></text><text class="l"><tspan x="3" y="24.700">Geometry</tspan><tspan x="3" y="30.700">Translation</tspan><tspan x="6" y="36.700">X</tspan><tspan x="6" y="42">Y</tspan><tspan x="6" y="47">Z</tspan><tspan x="3" y="53.700">Rotation</tspan><tspan x="6" y="59.700">X</tspan><tspan x="6" y="65.700">Y</tspan><tspan x="6" y="70.500">Z</tspan><tspan x="3" y="76.700">Scale</tspan><tspan x="6" y="99">Uniform Scale</tspan></text></g>
<g id="m12" transform="translate(715,228)"><rect class="m" width="59" height="106"/><rect class="h" width="59" height="5.500"/><text class="t" x="7" y="3.800">MR_Edit_Extrusion</text><use href="#i" x="53"/><rect class="s" x="3" y="20.800" width="53" height="5"/><use href="#pp" x="3" y="20.800"/><text class="t" x="11" y="24.300">MR_Edit_Extrusion</text><use href="#qq" x="51" y="20.800"/><path class="R" d="M3 48H56M3 54H56"/><path class="F" d="M17 90H56M17 96H56M17 102H56"/><path class="C" d="M5 60V72V78"/><path class="K" d="M5 66h.01"/><path class="G" d="M59 9h.01M0 30h.01"/><path class="Q" d="M59 15h.01"/><path class="D" d="M0 36V42"/><path class="Y" d="M0 48V54V90V96V102"/><path class="W" d="M0 60V66V72V78"/><path class="B" d="M0 84h.01"/><text class="v"><tspan x="55" y="10">Geometry</tspan><tspan x="55" y="16">Vertex Output</tspan><tspan x="54" y="49">0 m</tspan><tspan x="54" y="55">0.00</tspan></text><text class="l"><tspan x="3" y="31">Geometry</tspan><tspan x="3" y="37">UV Input</tspan><tspan x="3" y="43">Custom Selection</tspan><tspan x="6" y="49">Thickness</tspan><tspan x="6" y="55">Offset</tspan><tspan x="9" y="61">Individual</tspan><tspan x="9" y="67">Even O</tspan><tspan x="9" y="73">Crop Rim</tspan><tspan x="9" y="79">Flip Normals</tspan><tspan x="3" y="85">Materials</tspan><tspan x="3" y="91">Extrude</tspan><tspan x="3" y="97">Front Color</tspan><tspan x="3" y="103">Back Color</tspan></text></g>
<g id="m13" transform="translate(715,345)"><rect class="m" width="59" height="52"/><rect class="h" width="59" height="5.500"/><text class="t" x="7" y="3.800">MR_Mesh_Filler</text><use href="#i" x="53"/><rect class="s" x="3" y="15.200" width="53" height="5"/><use href="#pp" x="3" y="15.200"/><text class="t" x="11" y="18.700">MR_Mesh_Filler</text><use href="#qq" x="51" y="15.200"/><path class="R" d="M3 35.700H56M3 41.700H56M3 47.700H56"/><path class="K" d="M5 29.700h.01"/><path class="G" d="M59 9h.01M0 23.700h.01"/><path class="D" d="M0 29.700V35.700V41.700V47.700"/><text class="v"><tspan x="55" y="10">Data</tspan><tspan x="54" y="36.700">0</tspan><tspan x="54" y="42.700">0</tspan><tspan x="54" y="48.700">0.00</tspan></text><text class="l"><tspan x="3" y="24.700">Data</tspan><tspan x="9" y="30.700">Shade Smooth</tspan><tspan x="6" y="36.700">Subdivide</tspan><tspan x="6" y="42.700">Level</tspan><tspan x="6" y="48.700">Crease</tspan></text></g>
<g id="m14" transform="translate(718,412)"><rect class="m" width="59" height="40"/><rect class="h" width="59" height="5.500"/><text class="t" x="7" y="3.800">MR_Delete_Planar</text><use href="#i" x="53"/><rect class="s" x="3" y="14.800" width="53" height="5"/><use href="#pp" x="3" y="14.800"/><text class="t" x="11" y="18.300">MR_Delete_Planar</text><use href="#qq" x="51" y="14.800"/><path class="K" d="M4 30h.01"/><path class="G" d="M59 8.700h.01M0 24h.01"/><path class="Y" d="M0 30h.01"/><path class="D" d="M0 36h.01"/><text class="v" x="55" y="9.700">Geometry</text><text class="l"><tspan x="3" y="25">Geometry</tspan><tspan x="8" y="31">Delete</tspan><tspan x="3" y="37">Selection</tspan></text></g>
<g id="m15" transform="translate(717,473)"><rect class="m o" width="69" height="64"/><rect class="h" width="69" height="5.500"/><text class="t" x="7" y="3.800">MR_BoundingBoxes</text><use href="#i" x="63"/><rect class="s" x="3" y="39.200" width="62" height="5"/><use href="#pp" x="3" y="39.200"/><text class="t" x="11" y="42.700">MR_BoundingBoxes</text><use href="#qq" x="59" y="39.200"/><path class="F" d="M18 60H65"/><path class="C" d="M5 53.700h.01"/><path class="G" d="M0 47.700h.01"/><path class="D" d="M69 8.300V14.300V20.300V26.300V32.300M0 53.700h.01"/><path class="Y" d="M0 60h.01"/><text class="v"><tspan x="65" y="9.300">BoundingBox</tspan><tspan x="65" y="15.300">BoundingBox</tspan><tspan x="65" y="21.300">Vector</tspan><tspan x="65" y="27.300">Vector</tspan><tspan x="65" y="33.300">Vector2</tspan></text><text class="l"><tspan x="3" y="48.700">Geometry</tspan><tspan x="9" y="54.700">Draw Bounding Box</tspan><tspan x="3" y="61">Color</tspan></text></g>

<g id="ve1" transform="translate(851,67)"><rect class="n o" width="64" height="106"/><rect class="h" width="64" height="5.500"/><text class="t" x="7" y="3.800">MR_Edit_Random</text><use href="#i" x="58"/><rect class="s" x="3" y="20.800" width="58" height="5"/><use href="#pp" x="3" y="20.800"/><text class="t" x="15" y="24.300">MR_Edit_Random</text><use href="#qq" x="56" y="20.800"/><path class="R" d="M3 30H61M3 36.300H61M3 42.300H61M3 55H61M3 60.300H61M3 65.700H61M3 77H61M3 82.300H61M3 88H61M3 101H61"/><path class="D" d="M0 30V36.300V42.300V49V72V95V101M64 9V14.700"/><text class="v"><tspan x="60" y="10">Color</tspan><tspan x="60" y="15.700">Size</tspan><tspan x="58" y="31">0.00</tspan><tspan x="58" y="37.300">0.00</tspan><tspan x="58" y="43.300">0.00</tspan><tspan x="35" y="56">0.00</tspan><tspan x="35" y="61.300">0.00</tspan><tspan x="35" y="66.700">0.00</tspan><tspan x="35" y="78">0.00</tspan><tspan x="35" y="83.300">0.00</tspan><tspan x="35" y="89">0.00</tspan><tspan x="58" y="102">0</tspan></text><text class="l"><tspan x="6" y="31">Min</tspan><tspan x="6" y="37.300">Max</tspan><tspan x="6" y="43.300">Max</tspan><tspan x="4" y="50">Min</tspan><tspan x="4" y="73">Max</tspan><tspan x="4" y="96">ID</tspan><tspan x="6" y="102">Seed</tspan></text></g>
<g id="ve2" transform="translate(938,84)"><rect class="n" width="64" height="52"/><rect class="h" width="64" height="5.500"/><text class="t" x="7" y="3.800">MR_Orient2Align2Curve</text><use href="#i" x="58"/><rect class="s" x="3" y="14.200" width="58" height="5"/><use href="#pp" x="3" y="14.200"/><text class="t" x="11" y="17.700">MR_Orient2Align2Curve</text><use href="#qq" x="55" y="14.200"/><path class="C" d="M5 23.700V36V48.700"/><path class="K" d="M5 42.300h.01"/><path class="B" d="M64 8.300h.01"/><path class="D" d="M0 23.700V29.700V36V42.300V48.700"/><text class="v" x="60" y="9.300">Rotation</text><text class="l"><tspan x="9" y="24.700">Select Active Target</tspan><tspan x="3" y="30.700">Rotation</tspan><tspan x="9" y="37">X</tspan><tspan x="9" y="43.300">Y</tspan><tspan x="9" y="49.700">Z</tspan></text></g>
<g id="ve3" transform="translate(1018,84)"><rect class="n" width="68" height="73"/><rect class="h" width="68" height="5.500"/><text class="t" x="7" y="3.800">MR_Rotate2Align_Vector</text><use href="#i" x="62"/><rect class="s" x="3" y="14.200" width="62" height="5"/><use href="#pp" x="3" y="14.200"/><text class="t" x="11" y="17.700">MR_Rotate2Align_Vector</text><use href="#qq" x="59" y="14.200"/><path class="R" d="M3 29.700H65M3 34.700H65M3 39.700H65M3 51.700H65M3 57H65M3 63H65"/><path class="C" d="M6 69.700h.01"/><path class="B" d="M68 8.300h.01"/><path class="D" d="M0 23.700V46.300V69.700"/><text class="v"><tspan x="64" y="9.300">Vector</tspan><tspan x="63" y="30.700">0°</tspan><tspan x="63" y="35.700">0°</tspan><tspan x="63" y="40.700">0°</tspan><tspan x="37" y="52.700">0.00</tspan><tspan x="37" y="58">0.00</tspan><tspan x="37" y="64">0.00</tspan></text><text class="l"><tspan x="4" y="24.700">Rotation</tspan><tspan x="6" y="30.700">X</tspan><tspan x="6" y="35.700">Y</tspan><tspan x="6" y="40.700">Z</tspan><tspan x="4" y="47.300">Vector</tspan><tspan x="11" y="70.700">Invert</tspan></text></g>
<g id="ve4" transform="translate(1102,84)"><rect class="n" width="67" height="73"/><rect class="h" width="67" height="5.500"/><text class="t" x="7" y="3.800">MR_Shape_Vec_Rotate</text><use href="#i" x="61"/><rect class="s" x="3" y="14.200" width="61" height="5"/><use href="#pp" x="3" y="14.200"/><text class="t" x="11" y="17.700">MR_Shape_Vec_Rotate</text><use href="#qq" x="58" y="14.200"/><path class="R" d="M3 29.700H64M3 34.700H64M3 39.700H64M3 51.700H64M3 57H64M3 63H64M3 69.700H64"/><path class="B" d="M67 8.300h.01"/><path class="D" d="M0 23.700V46.300V69.700"/><text class="v"><tspan x="63" y="9.300">Vector</tspan><tspan x="37" y="30.700">0.00</tspan><tspan x="37" y="35.700">0.00</tspan><tspan x="37" y="40.700">0.00</tspan><tspan x="37" y="52.700">0.00</tspan><tspan x="37" y="58">0.00</tspan><tspan x="37" y="64">0.00</tspan><tspan x="62" y="70.700">0.00</tspan></text><text class="l"><tspan x="4" y="24.700">Vector</tspan><tspan x="4" y="47.300">Scale</tspan><tspan x="6" y="70.700">Uniform Scale</tspan></text></g>
<g id="ve5" transform="translate(1188,73)"><rect class="n" width="62" height="52"/><rect class="h" width="62" height="5.500"/><text class="t" x="7" y="3.800">MR_Combine_Vertices</text><use href="#i" x="56"/><rect class="s" x="3" y="14.500" width="56" height="5"/><use href="#pp" x="3" y="14.500"/><text class="t" x="11" y="18">MR_Combine_Vertices</text><use href="#qq" x="54" y="14.500"/><path class="R" d="M3 23.700H59M3 30H59M3 36H59M3 49H59"/><path class="D" d="M62 8.300h.01M0 23.700V30V36V49"/><path class="B" d="M0 43h.01"/><path d="M4 43H24" stroke="#999" stroke-width=".5"/><text class="v"><tspan x="58" y="9.300">Vector</tspan><tspan x="57" y="24.700">0 m</tspan><tspan x="57" y="31">0 m</tspan><tspan x="57" y="37">0 m</tspan><tspan x="57" y="50">0.00</tspan></text><text class="l"><tspan x="6" y="24.700">X</tspan><tspan x="6" y="31">Y</tspan><tspan x="6" y="37">Z</tspan><tspan x="6" y="50">Uniform Scale</tspan></text></g>
<g id="ve6" transform="translate(1188,140)"><rect class="n" width="63" height="38"/><rect class="h" width="63" height="5.500"/><text class="t" x="7" y="3.800">MR_Combine_XYZ_Degrees</text><use href="#i" x="57"/><rect class="s" x="3" y="13.500" width="57" height="5"/><use href="#pp" x="3" y="13.500"/><text class="t" x="11" y="17">MR_Combine_XYZ_Degrees</text><use href="#qq" x="55" y="13.500"/><path class="R" d="M3 23H60M3 29.700H60M3 35.700H60"/><path class="D" d="M64 7.700h.01M0 23V29.700V35.700"/><text class="v"><tspan x="59" y="8.700">Vector</tspan><tspan x="58" y="24">0°</tspan><tspan x="58" y="30.700">0°</tspan><tspan x="58" y="36.700">0°</tspan></text><text class="l"><tspan x="6" y="24">X</tspan><tspan x="6" y="30.700">Y</tspan><tspan x="6" y="36.700">Z</tspan></text></g>

<g id="f1" transform="translate(862,256)"><rect class="d" width="53" height="263"/><rect class="h" width="53" height="5.500"/><text class="t" x="7" y="3.800">MR_MixFloat_Ramps</text><use href="#i" x="47"/><rect class="s" x="3" y="14.800" width="47" height="5"/><use href="#pp" x="3" y="14.800"/><text class="t" x="11" y="18.300">MR_MixFloat_Ramps</text><use href="#qq" x="45" y="14.800"/><path class="D" d="M53 9.300h.01"/><text class="v" x="49" y="10.300">Output</text><use href="#r5" y="24"/><use href="#r5" y="30"/><use href="#r5" y="36"/><use href="#r5" y="42"/><use href="#r5" y="48"/><use href="#r5" y="54"/><use href="#r5" y="60"/><use href="#r5" y="66"/><use href="#r5" y="72.500"/><use href="#r5" y="78.500"/><use href="#m5" y="84.700"/><use href="#m5" y="102.700"/><use href="#m5" y="120.700"/><use href="#m5" y="138.700"/><use href="#m5" y="156.700"/><use href="#m5" y="174.700"/><use href="#m5" y="192.700"/><use href="#m5" y="210.700"/><use href="#m5" y="228.700"/><use href="#m5" y="246.700"/><text class="l"><tspan x="4" y="85.700">1stRamp</tspan><tspan x="4" y="103.700">2ndRamp</tspan><tspan x="4" y="121.700">3rdRamp</tspan><tspan x="4" y="139.700">4thRamp</tspan><tspan x="4" y="157.700">5thRamp</tspan><tspan x="4" y="175.700">6thRamp</tspan><tspan x="4" y="193.700">7thRamp</tspan><tspan x="4" y="211.700">8thRamp</tspan><tspan x="4" y="229.700">9thRamp</tspan><tspan x="4" y="247.700">10thRamp</tspan></text></g>
<g id="f2" transform="translate(935,245)"><rect class="d" width="53" height="213"/><rect class="h" width="53" height="5.500"/><text class="t" x="7" y="3.800">MR_MixFloat_Ramps</text><use href="#i" x="47"/><rect class="s" x="3" y="14.800" width="47" height="5"/><use href="#pp" x="3" y="14.800"/><text class="t" x="11" y="18.300">MR_MixFloat_Ramps</text><use href="#qq" x="45" y="14.800"/><path class="D" d="M53 8.700h.01"/><text class="v" x="49" y="9.700">Output</text><use href="#r5" y="24"/><use href="#r5" y="30"/><use href="#r5" y="36"/><use href="#r5" y="42"/><use href="#r5" y="48"/><use href="#r5" y="54"/><use href="#r5" y="60"/><use href="#r5" y="66"/><use href="#m5" y="72"/><use href="#m5" y="90"/><use href="#m5" y="108"/><use href="#m5" y="126.500"/><use href="#m5" y="144.500"/><use href="#m5" y="162.500"/><use href="#m5" y="180.500"/><use href="#m5" y="198.500" /><text class="l"><tspan x="4" y="73">1stRamp</tspan><tspan x="4" y="91">2ndRamp</tspan><tspan x="4" y="109">3rdRamp</tspan><tspan x="4" y="127.500">4thRamp</tspan><tspan x="4" y="145.500">5thRamp</tspan><tspan x="4" y="163.500">6thRamp</tspan><tspan x="4" y="181.500">7thRamp</tspan><tspan x="4" y="199.500">8thRamp</tspan></text></g>
<g id="f3" transform="translate(1002,245)"><rect class="d" width="53" height="166"/><rect class="h" width="53" height="5.500"/><text class="t" x="7" y="3.800">MR_MixFloat_Ramps</text><use href="#i" x="47"/><rect class="s" x="3" y="14.800" width="47" height="5"/><use href="#pp" x="3" y="14.800"/><text class="t" x="11" y="18.300">MR_MixFloat_Ramps</text><use href="#qq" x="45" y="14.800"/><path class="D" d="M53 8.700h.01"/><text class="v" x="49" y="9.700">Output</text><use href="#r5" y="24"/><use href="#r5" y="30"/><use href="#r5" y="36"/><use href="#r5" y="42"/><use href="#r5" y="48"/><use href="#r5" y="54"/><use href="#m5" y="60"/><use href="#m5" y="78"/><use href="#m5" y="96"/><use href="#m5" y="114"/><use href="#m5" y="132"/><use href="#m5" y="150"/><text class="l"><tspan x="4" y="61">1stRamp</tspan><tspan x="4" y="79">2ndRamp</tspan><tspan x="4" y="97">3rdRamp</tspan><tspan x="4" y="115">4thRamp</tspan><tspan x="4" y="133">5thRamp</tspan><tspan x="4" y="151">6thRamp</tspan></text></g>
<g id="f4" transform="translate(1068,245)"><rect class="d" width="65" height="94"/><rect class="h" width="65" height="5.500"/><text class="t" x="7" y="3.800">MR_MixFloat_Ramps</text><use href="#i" x="59"/><rect class="s" x="3" y="14.200" width="59" height="5"/><use href="#pp" x="3" y="14.200"/><text class="t" x="11" y="17.700">MR_MixFloat_Ramps</text><use href="#qq" x="57" y="14.200"/><path class="D" d="M65 8.700h.01"/><text class="v" x="61" y="9.700">Output</text><use href="#r6" y="24"/><use href="#r6" y="30"/><use href="#r6" y="36"/><use href="#m6" y="42"/><use href="#m6" y="60"/><use href="#m6" y="78"/><text class="l"><tspan x="4" y="43">1stRamp</tspan><tspan x="4" y="61">2ndRamp</tspan><tspan x="4" y="79">3rdRamp</tspan></text></g>
<g id="f5" transform="translate(1077,362)"><rect class="d o" width="65" height="47"/><rect class="h" width="65" height="5.500"/><text class="t" x="7" y="3.800">MR_Delete_Bias</text><use href="#i" x="59"/><rect class="s" x="3" y="15.200" width="59" height="5"/><use href="#pp" x="3" y="15.200"/><text class="t" x="11" y="18.700">MR_Delete_Bias</text><use href="#qq" x="57" y="15.200"/><path class="R" d="M3 24H62M3 30H62M3 36H62"/><path class="C" d="M5 42h.01"/><path class="D" d="M65 9h.01M0 24V30V36V42"/><text class="v"><tspan x="61" y="10">Value</tspan><tspan x="60" y="25">0.00</tspan><tspan x="60" y="31">2</tspan><tspan x="60" y="37">0</tspan></text><text class="l"><tspan x="6" y="25">Influence</tspan><tspan x="6" y="31">Iteration Count</tspan><tspan x="6" y="37">Source Map</tspan><tspan x="9" y="43">Filter Negatives</tspan></text></g>
<g id="f6" transform="translate(942,489)"><rect class="d o" width="64" height="29"/><rect class="h" width="64" height="5.500"/><text class="t" x="7" y="3.800">MR_HighOutBias_to_Vals</text><use href="#i" x="58"/><rect class="s" x="3" y="15.500" width="58" height="5"/><use href="#pp" x="3" y="15.500"/><text class="t" x="11" y="19">MR_HighOutBias_to_Vals</text><use href="#qq" x="56" y="15.500"/><path class="R" d="M3 24.700H61"/><path class="D" d="M64 9.400h.01M0 24.700h.01"/><text class="v"><tspan x="60" y="10.400">Result</tspan><tspan x="59" y="25.700">1000 m</tspan></text><text class="l" x="6" y="25.700">Value</text></g>

<g id="u1" transform="translate(1210,272)"><rect class="d o" width="82" height="47"/><rect class="h" width="82" height="5.500"/><text class="t" x="8" y="3.800">MR_UV_Grid</text><use href="#i" x="76"/><rect class="s" x="3" y="15.200" width="76" height="5"/><use href="#pp" x="3" y="15.200"/><text class="t" x="11" y="18.700">MR_UV_Grid</text><use href="#qq" x="73" y="15.200"/><path class="R" d="M3 24.400H79M3 30.400H79M3 36.400H79M3 42.400H79"/><path class="Q" d="M82 9.300h.01"/><path class="D" d="M0 24.400V30.400V36.400V42.400"/><text class="v"><tspan x="78" y="10.300">UV Shape</tspan><tspan x="77" y="25.400">0 m</tspan><tspan x="77" y="31.400">0 m</tspan><tspan x="77" y="37.400">100</tspan><tspan x="77" y="43.400">0 m</tspan></text><text class="l"><tspan x="7" y="25.400">Size Min</tspan><tspan x="7" y="31.400">Size Max</tspan><tspan x="7" y="37.400">Grid Subdivision</tspan><tspan x="7" y="43.400">Grid Width</tspan></text></g>
<g id="u2" transform="translate(1210,328)"><rect class="d o" width="82" height="58"/><rect class="h" width="82" height="5.500"/><text class="t" x="8" y="3.800">MR_UV_Mapping_Cap_Projection</text><use href="#i" x="76"/><rect class="s" x="3" y="26.900" width="76" height="5"/><use href="#pp" x="3" y="26.900"/><text class="t" x="11" y="30.400">MR_UV_Mapping_Cap_Projection</text><use href="#qq" x="73" y="26.900"/><path class="R" d="M3 48.400H79"/><path class="F" d="M35 54.400H79"/><path class="G" d="M82 8.700h.01M0 36.400h.01"/><path class="B" d="M82 14.700h.01M0 54.400h.01"/><path class="Q" d="M82 20.700h.01"/><path class="D" d="M0 42.400V48.400"/><text class="v"><tspan x="78" y="9.700">Geometry</tspan><tspan x="78" y="15.700">UV Group Index</tspan><tspan x="78" y="21.700">UV Map</tspan><tspan x="77" y="49.400">0</tspan></text><text class="l"><tspan x="3" y="37.400">Geometry</tspan><tspan x="3" y="43.400">Custom Selection</tspan><tspan x="7" y="49.400">Angle</tspan><tspan x="3" y="55.400">UV Count Index</tspan><tspan x="37" y="55.400">uv_map</tspan></text></g>
<g id="u3" transform="translate(1305,272)"><rect class="d o" width="77" height="77"/><rect class="h" width="77" height="5.500"/><text class="t" x="8" y="3.800">MR_UV_Mapping_Beam_Image</text><use href="#i" x="71"/><rect class="s" x="3" y="26.900" width="71" height="5"/><use href="#pp" x="3" y="26.900"/><text class="t" x="11" y="30.400">MR_UV_Mapping_Beam_Image</text><use href="#qq" x="68" y="26.900"/><path class="F" d="M33 48.700H74M33 54.700H74"/><path class="R" d="M3 60.700H74M3 66.700H74"/><path class="K" d="M5 72.700h.01"/><path class="G" d="M77 9.300h.01M0 36.700h.01"/><path class="B" d="M77 15.300h.01M0 54.700h.01"/><path class="Q" d="M77 21.300h.01"/><path class="D" d="M0 42.700V60.700V66.700"/><path class="W" d="M0 72.700h.01"/><path d="M4 48.700H22" stroke="#888" stroke-width=".5"/><text class="v"><tspan x="73" y="10.300">Geometry</tspan><tspan x="73" y="16.300">UV Group Index</tspan><tspan x="73" y="22.300">UV Map</tspan><tspan x="72" y="61.700">0°</tspan><tspan x="72" y="67.700">0.00</tspan></text><text class="l"><tspan x="3" y="37.700">Geometry</tspan><tspan x="3" y="43.700">Custom Selection</tspan><tspan x="34" y="49.700">Depth Subdivision</tspan><tspan x="3" y="55.700">UV Group Index</tspan><tspan x="34" y="55.700">uv_map</tspan><tspan x="7" y="61.700">Angle</tspan><tspan x="7" y="67.700">Scale</tspan><tspan x="9" y="73.700">Wrap</tspan></text></g>
<g id="u4" transform="translate(1305,356)"><rect class="d o" width="77" height="47"/><rect class="h" width="77" height="5.500"/><text class="t" x="8" y="3.800">MR_UV_Mapping_Cap_Mix</text><use href="#i" x="71"/><rect class="s" x="3" y="21.500" width="71" height="5"/><use href="#pp" x="3" y="21.500"/><text class="t" x="11" y="25">MR_UV_Mapping_Cap_Mix</text><use href="#qq" x="68" y="21.500"/><path class="F" d="M33 42H74"/><path class="G" d="M77 8.700h.01M0 30h.01"/><path class="Q" d="M77 14.700h.01"/><path class="D" d="M0 36h.01"/><path class="B" d="M0 42h.01"/><text class="v"><tspan x="73" y="9.700">Geometry</tspan><tspan x="73" y="15.700">UV Map</tspan></text><text class="l"><tspan x="3" y="31">Geometry</tspan><tspan x="3" y="37">Selection</tspan><tspan x="3" y="43">UV Group Index</tspan><tspan x="34" y="43">uv_map</tspan></text></g>

<g id="sp1" transform="translate(1257,512)"><rect class="d o" width="66" height="58"/><rect class="h" width="66" height="5.500"/><text class="t" x="7" y="3.800">MR_ElCurves</text><use href="#i" x="60"/><rect class="s" x="3" y="15.200" width="60" height="5"/><use href="#pp" x="3" y="15.200"/><text class="t" x="13" y="18.700">MR_ElCurves</text><use href="#qq" x="57" y="15.200"/><path class="R" d="M3 48.400H62"/><path class="C" d="M6 36.400V42.400"/><path class="G" d="M66 8.700h.01M0 24.400h.01"/><path class="W" d="M0 36.400V42.400"/><path class="D" d="M0 30.400V48.400V54.400"/><text class="v"><tspan x="62" y="9.700">Geometry</tspan><tspan x="60" y="49.400">0.00</tspan></text><text class="l"><tspan x="4" y="25.400">Curve</tspan><tspan x="4" y="31.400">Spline</tspan><tspan x="10" y="37.400">B-Spline Regular</tspan><tspan x="10" y="43.400">Cull Sample Curve</tspan><tspan x="6" y="49.400">Resample Count</tspan><tspan x="3" y="55.400">Resample Radius</tspan></text></g>
<g id="sp2" transform="translate(1257,574)"><rect class="d o" width="66" height="58"/><rect class="h" width="66" height="5.500"/><text class="t" x="7" y="3.800">MR_Spline_Base_Bevel</text><use href="#i" x="60"/><rect class="s" x="3" y="14.500" width="60" height="5"/><use href="#pp" x="3" y="14.500"/><text class="t" x="13" y="18">MR_Spline_Base_Bevel</text><use href="#qq" x="57" y="14.500"/><path class="R" d="M3 48H62M3 54H62"/><path class="K" d="M6 36V42"/><path class="G" d="M66 9h.01M0 24h.01"/><path class="D" d="M0 30V36V42V48V54"/><text class="v"><tspan x="62" y="10">Curve</tspan><tspan x="60" y="49">1.00</tspan><tspan x="60" y="55">0.00</tspan></text><text class="l"><tspan x="4" y="25">Curve</tspan><tspan x="4" y="31">Spline</tspan><tspan x="10" y="37">Bevel Start Vert</tspan><tspan x="10" y="43">Bevel End Vert</tspan><tspan x="6" y="49">Depth Factor</tspan><tspan x="6" y="55">Start Point Vert</tspan></text></g>
<g id="sp3" transform="translate(1257,641)"><rect class="d o" width="66" height="52"/><rect class="h" width="66" height="5.500"/><text class="t" x="7" y="3.800">MR_Ring_Basic_Repeat</text><use href="#i" x="60"/><rect class="s" x="3" y="20.500" width="60" height="5"/><use href="#pp" x="3" y="20.500"/><text class="t" x="13" y="24">MR_Ring_Basic_Repeat</text><use href="#qq" x="57" y="20.500"/><path class="R" d="M3 48H62"/><path class="G" d="M66 9h.01M0 30V36"/><path class="D" d="M66 15h.01M0 42V48"/><text class="v"><tspan x="62" y="10">Resolved Bez</tspan><tspan x="62" y="16">Curve Loop</tspan><tspan x="60" y="49">0.00</tspan></text><text class="l"><tspan x="4" y="31">Base Bez</tspan><tspan x="4" y="37">Repeat Bez</tspan><tspan x="4" y="43">Curve Loop</tspan><tspan x="6" y="49">Fill</tspan></text></g>
<g id="sp4" transform="translate(1254,724)"><rect class="m o" width="71" height="89"/><rect class="h" width="71" height="5.500"/><text class="t" x="7" y="3.800">MR_Duplicate_Elem_Spline</text><use href="#i" x="65"/><rect class="s" x="3" y="21.200" width="65" height="5"/><use href="#pp" x="3" y="21.200"/><text class="t" x="12" y="24.700">MR_Duplicate_Elem_Spline</text><use href="#qq" x="62" y="21.200"/><path class="R" d="M3 48H68M3 54H68M3 60H68M3 66H68"/><path class="K" d="M5 42h.01"/><path class="C" d="M5 72V78V84"/><path class="G" d="M71 9h.01M0 30V36"/><path class="D" d="M71 15h.01M0 42V48V54V60V66V72V78V84"/><text class="v"><tspan x="67" y="10">Curve</tspan><tspan x="67" y="16">Displacement</tspan><tspan x="66" y="49">0</tspan><tspan x="66" y="55">16</tspan><tspan x="66" y="61">0.00</tspan><tspan x="66" y="67">0.00</tspan></text><text class="l"><tspan x="3" y="31">Curve Start</tspan><tspan x="3" y="37">Curve End</tspan><tspan x="9" y="43">Custom Selection</tspan><tspan x="6" y="49">Amount</tspan><tspan x="6" y="55">Resample Count</tspan><tspan x="6" y="61">Offset Angle</tspan><tspan x="6" y="67">Offset Distance</tspan><tspan x="9" y="73">Shrink Scale Type</tspan><tspan x="9" y="79">Invert Start Shift</tspan><tspan x="9" y="85">Invert End Shift</tspan></text></g>
<g id="sp5" transform="translate(1251,830)"><rect class="m" width="73" height="34"/><rect class="h" width="73" height="5.500"/><text class="t" x="7" y="3.800">MR_Spline_Bevel</text><use href="#i" x="67"/><rect class="s" x="3" y="15.200" width="67" height="5"/><use href="#pp" x="3" y="15.200"/><text class="t" x="11" y="18.700">MR_Spline_Bevel</text><use href="#qq" x="65" y="15.200"/><path class="R" d="M3 30.400H70"/><path class="G" d="M73 9.300h.01M0 24.400h.01"/><path class="D" d="M0 30.400h.01"/><text class="v"><tspan x="69" y="10.300">Curve</tspan><tspan x="68" y="31.400">0.00</tspan></text><text class="l"><tspan x="7" y="25.400">Curve</tspan><tspan x="6" y="31.400">Bevel</tspan></text></g>

<g id="o1" transform="translate(854,624)"><rect class="m o" width="75" height="96"/><rect class="h" width="75" height="5.500"/><text class="t" x="7" y="3.800">MR_Set_Origin_By_Custom_Values</text><use href="#i" x="68"/><rect class="s" x="3" y="14.800" width="69" height="5"/><use href="#pp" x="3" y="14.800"/><text class="t" x="12" y="18.300">MR_Set_Origin_By_Custom_Values</text><use href="#qq" x="66" y="14.800"/><path class="R" d="M3 36H72M3 41H72M3 46.500H72M3 58H72M3 63H72M3 69H72M3 81H72M3 86H72M3 92H72"/><path class="G" d="M75 9h.01M0 24h.01"/><path class="Q" d="M0 30V53V75"/><text class="v"><tspan x="71" y="10">Geometry</tspan><tspan x="70" y="37">0 m</tspan><tspan x="70" y="42">0 m</tspan><tspan x="70" y="47.500">0 m</tspan><tspan x="70" y="59">0°</tspan><tspan x="70" y="64">0°</tspan><tspan x="70" y="70">0°</tspan><tspan x="70" y="82">0.00</tspan><tspan x="70" y="87">0.00</tspan><tspan x="70" y="93">0.00</tspan></text><text class="l"><tspan x="3" y="25">Geometry</tspan><tspan x="3" y="31">Translation</tspan><tspan x="6" y="37">X</tspan><tspan x="6" y="42">Y</tspan><tspan x="6" y="47.500">Z</tspan><tspan x="3" y="54">Rotation</tspan><tspan x="6" y="59">X</tspan><tspan x="6" y="64">Y</tspan><tspan x="6" y="70">Z</tspan><tspan x="3" y="76">Scale</tspan><tspan x="6" y="82">X</tspan><tspan x="6" y="87">Y</tspan><tspan x="6" y="93">Z</tspan></text></g>
<g id="o2" transform="translate(854,729)"><rect class="m o" width="72" height="29"/><rect class="h" width="72" height="5.500"/><text class="t" x="7" y="3.800">MR_Set_Origin_By_Vert_ID</text><use href="#i" x="65"/><rect class="s" x="3" y="15.200" width="66" height="5"/><use href="#pp" x="3" y="15.200"/><text class="t" x="12" y="18.700">MR_Set_Origin_By_Vert_ID</text><text class="v" x="60" y="18.700">2</text><use href="#qq" x="63" y="15.200"/><path class="G" d="M72 9.700h.01M0 24.700h.01"/><text class="v" x="68" y="10.700">Geometry</text><text class="l" x="3" y="25.700">Geometry</text></g>
<g id="o3" transform="translate(942,624)"><rect class="m o" width="68" height="83"/><rect class="h" width="68" height="5.500"/><text class="t" x="7" y="3.800">MR_Set_BB_Origin</text><use href="#i" x="61"/><rect class="s" x="3" y="15.200" width="60" height="5"/><use href="#pp" x="3" y="15.200"/><text class="t" x="12" y="18.700">MR_Set_BB_Origin</text><use href="#qq" x="58" y="15.200"/><path class="C" d="M5 30V36V42V48V54V60V66V72V78"/><path class="G" d="M68 9h.01M0 24h.01"/><path class="W" d="M0 30V36V42V48V54V60V66V72V78"/><text class="v" x="64" y="10">Geometry</text><text class="l"><tspan x="3" y="25">Geometry</tspan><tspan x="10" y="31">Top_Back</tspan><tspan x="10" y="37">Top_Center</tspan><tspan x="10" y="43">Top_Front</tspan><tspan x="10" y="49">Center_Back</tspan><tspan x="10" y="55">Center_Center</tspan><tspan x="10" y="61">Center_Front</tspan><tspan x="10" y="67">Bottom_Back</tspan><tspan x="10" y="73">Bottom_Center</tspan><tspan x="10" y="79">Bottom_Front</tspan></text></g>
<g id="o4" transform="translate(1026,624)"><rect class="m o" width="59" height="191"/><rect class="h" width="59" height="5.500"/><text class="t" x="7" y="3.800">MR_Set_BB_Origin</text><use href="#i" x="52"/><rect class="s" x="3" y="15.200" width="52" height="5"/><use href="#pp" x="3" y="15.200"/><text class="t" x="12" y="18.700">MR_Set_BB_Origin</text><use href="#qq" x="50" y="15.200"/><path class="C" d="M6 30V36V42V48V54V60V66V72V78V84V90V96V102V108V114V120V126V132V138V144V150V156V162V168V174V180V186"/><path class="G" d="M59 9h.01M0 24h.01"/><path class="W" d="M0 30V36V42V48V54V60V66V72V78V84V90V96V102V108V114V120V126V132V138V144V150V156V162V168V174V180V186"/><text class="v" x="55" y="10">Geometry</text><text class="l"><tspan x="3" y="25">Geometry</tspan><tspan x="10" y="31">TopFront_Back</tspan><tspan x="10" y="37">TopFront_Center</tspan><tspan x="10" y="43">TopFront_Front</tspan><tspan x="10" y="49">TopCenter_Back</tspan><tspan x="10" y="55">TopCenter_Center</tspan><tspan x="10" y="61">TopCenter_Front</tspan><tspan x="10" y="67">TopBack_Back</tspan><tspan x="10" y="73">TopBack_Center</tspan><tspan x="10" y="79">TopBack_Front</tspan><tspan x="10" y="85">MidFront_Back</tspan><tspan x="10" y="91">MidFront_Center</tspan><tspan x="10" y="97">MidFront_Front</tspan><tspan x="10" y="103">MidCenter_Back</tspan><tspan x="10" y="109">MidCenter_Center</tspan><tspan x="10" y="115">MidCenter_Front</tspan><tspan x="10" y="121">MidBack_Back</tspan><tspan x="10" y="127">MidBack_Center</tspan><tspan x="10" y="133">MidBack_Front</tspan><tspan x="10" y="139">BottomFront_Back</tspan><tspan x="10" y="145">BottomFront_Center</tspan><tspan x="10" y="151">BottomFront_Front</tspan><tspan x="10" y="157">BottomCenter_Back</tspan><tspan x="10" y="163">BottomCenter_Center</tspan><tspan x="10" y="169">BottomCenter_Front</tspan><tspan x="10" y="175">BottomBack_Back</tspan><tspan x="10" y="181">BottomBack_Center</tspan><tspan x="10" y="187">BottomBack_Front</tspan></text></g>
<g id="o5" transform="translate(942,734)"><rect class="m o" width="69" height="48"/><rect class="h" width="69" height="5.500"/><text class="t" x="7" y="3.800">MR_Offset_Origin</text><use href="#i" x="62"/><rect class="s" x="3" y="15.200" width="62" height="5"/><use href="#pp" x="3" y="15.200"/><text class="t" x="12" y="18.700">MR_Offset_Origin</text><use href="#qq" x="60" y="15.200"/><path class="R" d="M3 30.400H66M3 36.400H66M3 42.400H66"/><path class="A" d="M3 30.400H33M3 36.400H33M3 42.400H33"/><path class="G" d="M69 9h.01M0 24.400h.01"/><path class="D" d="M0 30.400V36.400V42.400"/><text class="v"><tspan x="65" y="10">Geometry</tspan><tspan x="64" y="31.400">0.50</tspan><tspan x="64" y="37.400">0.50</tspan><tspan x="64" y="43.400">0.50</tspan></text><text class="l"><tspan x="3" y="25.400">Geometry</tspan><tspan x="6" y="31.400">Offset X</tspan><tspan x="6" y="37.400">Offset Y</tspan><tspan x="6" y="43.400">Offset Z</tspan></text></g>

<g id="p1" transform="translate(491,628)"><rect class="d o" width="60" height="53.500"/><rect class="h" width="60" height="5.500"/><text class="t" x="7" y="3.800">MR_Prim_Capsule</text><use href="#i" x="54"/><rect class="s" x="3" y="15.200" width="54" height="5"/><use href="#pp" x="3" y="15.200"/><text class="t" x="13" y="18.700">MR_Prim_Capsule</text><use href="#qq" x="50" y="15.200"/><path class="R" d="M3 24.400H57M3 30.400H57M3 36.400H57M3 42.400H57"/><path class="K" d="M5 48.700h.01"/><path class="G" d="M60 9.400h.01"/><path class="D" d="M0 24.400V30.400V36.400V42.400V48.700"/><text class="v"><tspan x="56" y="10.400">Geometry</tspan><tspan x="54" y="25.400">32</tspan><tspan x="54" y="31.400">5</tspan><tspan x="54" y="37.400">0.50</tspan><tspan x="54" y="43.400">2.00</tspan></text><text class="l"><tspan x="6" y="25.400">Edge Vertices</tspan><tspan x="6" y="31.400">Hemispheres</tspan><tspan x="6" y="37.400">Radius</tspan><tspan x="6" y="43.400">Height</tspan><tspan x="9" y="49.700">Shade Smooth</tspan></text></g>
<g id="p2" transform="translate(567,628)"><rect class="d o" width="61" height="59"/><rect class="h" width="61" height="5.500"/><text class="t" x="7" y="3.800">MR_Prim_Cone</text><use href="#i" x="55"/><rect class="s" x="3" y="15.200" width="55" height="5"/><use href="#pp" x="3" y="15.200"/><text class="t" x="13" y="18.700">MR_Prim_Cone</text><use href="#qq" x="51" y="15.200"/><path class="R" d="M3 24.400H58M3 30.400H58M3 36.400H58M3 42.400H58M3 48.400H58"/><path class="C" d="M5 54.700h.01"/><path class="G" d="M61 9.400h.01"/><path class="D" d="M0 24.400V30.400V36.400V42.400V48.400V54.700"/><text class="v"><tspan x="57" y="10.400">Geometry</tspan><tspan x="55" y="25.400">32</tspan><tspan x="55" y="31.400">0 m</tspan><tspan x="55" y="37.400">100 m</tspan><tspan x="55" y="43.400">90°</tspan><tspan x="55" y="49.400">100 m</tspan></text><text class="l"><tspan x="6" y="25.400">Vertices</tspan><tspan x="6" y="31.400">Radius Top</tspan><tspan x="6" y="37.400">Radius Bottom</tspan><tspan x="6" y="43.400">Arc</tspan><tspan x="6" y="49.400">Height</tspan><tspan x="9" y="55.700">Shade Smooth</tspan></text></g>
<g id="p3" transform="translate(647,628)"><rect class="d o" width="64" height="59"/><rect class="h" width="64" height="5.500"/><text class="t" x="7" y="3.800">MR_Prim_Cylinder</text><use href="#i" x="58"/><rect class="s" x="3" y="15.200" width="58" height="5"/><use href="#pp" x="3" y="15.200"/><text class="t" x="13" y="18.700">MR_Prim_Cylinder</text><use href="#qq" x="54" y="15.200"/><path class="R" d="M3 24.400H61M3 30.400H61M3 36.400H61M3 42.400H61M3 48.400H61"/><path class="C" d="M5 54.700h.01"/><path class="G" d="M64 9.400h.01"/><path class="D" d="M0 24.400V30.400V36.400V42.400V48.400V54.700"/><text class="v"><tspan x="60" y="10.400">Geometry</tspan><tspan x="58" y="25.400">32</tspan><tspan x="58" y="31.400">100 m</tspan><tspan x="58" y="37.400">100 m</tspan><tspan x="58" y="43.400">90°</tspan><tspan x="58" y="49.400">0 m</tspan></text><text class="l"><tspan x="6" y="25.400">Vertices</tspan><tspan x="6" y="31.400">Radius Top</tspan><tspan x="6" y="37.400">Radius Bottom</tspan><tspan x="6" y="43.400">Arc</tspan><tspan x="6" y="49.400">Height</tspan><tspan x="9" y="55.700">Shade Smooth</tspan></text></g>
<g id="p4" transform="translate(723,628)"><rect class="d o" width="58" height="53.500"/><rect class="h" width="58" height="5.500"/><text class="t" x="7" y="3.800">MR_Prim_Torus</text><use href="#i" x="52"/><rect class="s" x="3" y="15.200" width="52" height="5"/><use href="#pp" x="3" y="15.200"/><text class="t" x="13" y="18.700">MR_Prim_Torus</text><use href="#qq" x="48" y="15.200"/><path class="R" d="M3 24.400H55M3 30.400H55M3 36.400H55M3 42.400H55"/><path class="K" d="M5 48.700h.01"/><path class="G" d="M58 9.400h.01"/><path class="D" d="M0 24.400V30.400V36.400V42.400V48.700"/><text class="v"><tspan x="54" y="10.400">Geometry</tspan><tspan x="52" y="25.400">32</tspan><tspan x="52" y="31.400">12</tspan><tspan x="52" y="37.400">100 m</tspan><tspan x="52" y="43.400">0.50</tspan></text><text class="l"><tspan x="6" y="25.400">Edge Vertices</tspan><tspan x="6" y="31.400">Minor Vertices</tspan><tspan x="6" y="37.400">Arc</tspan><tspan x="6" y="43.400">Thickness</tspan><tspan x="9" y="49.700">Shade Smooth</tspan></text></g>

<g id="l1" transform="translate(492,768)"><rect class="d" width="71" height="111.500"/><rect class="h" width="71" height="5.500"/><text class="t" x="7" y="3.800">MR_Loop_Smoothing_Selection</text><use href="#i" x="65"/><rect class="s" x="3" y="20.900" width="65" height="5"/><use href="#pp" x="3" y="20.900"/><text class="t" x="12" y="24.400">MR_Loop_Smoothing_Selection</text><use href="#qq" x="60" y="20.900"/><path class="R" d="M3 29.400H68M3 41.400H68M3 47.400H68M3 53.400H68M3 59.400H68M3 72H68M3 78H68M3 84H68M3 90H68M3 102H68M3 108H68"/><path class="A" d="M3 53.400H34"/><path class="D" d="M71 8.700h.01M0 29.400V41.400V47.400V53.400V59.400V72V78V84V90V102V108"/><path class="Y" d="M71 14.700h.01"/><path class="B" d="M0 35.400V66V96"/><text class="v"><tspan x="67" y="9.700">Result</tspan><tspan x="67" y="15.700">Color</tspan><tspan x="66" y="30.400">0.00</tspan><tspan x="66" y="42.400">0.00</tspan><tspan x="66" y="48.400">0.00</tspan><tspan x="66" y="54.400">0.50</tspan><tspan x="66" y="60.400">0.00</tspan><tspan x="66" y="73">0.00</tspan><tspan x="66" y="79">0.00</tspan><tspan x="66" y="85">0.00</tspan><tspan x="66" y="91">0.00</tspan><tspan x="66" y="103">0.00</tspan><tspan x="66" y="109">1000</tspan></text><text class="l"><tspan x="6" y="30.400">Speed</tspan><tspan x="4" y="36.400">Noise Color</tspan><tspan x="6" y="42.400">Scale Noise</tspan><tspan x="6" y="48.400">Dark Noise</tspan><tspan x="6" y="54.400">Brushwork Noise</tspan><tspan x="6" y="60.400">Distort Noise</tspan><tspan x="4" y="67">High Ramp</tspan><tspan x="6" y="73">Threshold</tspan><tspan x="6" y="79">Threshold</tspan><tspan x="6" y="85">Clamp</tspan><tspan x="6" y="91">Timer</tspan><tspan x="4" y="97">Animation</tspan><tspan x="6" y="103">Start Frame</tspan><tspan x="6" y="109">End Frame</tspan></text></g>
<g id="l2" transform="translate(578,769)"><rect class="d" width="64" height="75"/><rect class="h" width="64" height="5.500"/><text class="t" x="7" y="3.800">MR_Loop_Rip_Panel_Wrap</text><use href="#i" x="58"/><rect class="s" x="3" y="14.200" width="58" height="5"/><use href="#pp" x="3" y="14.200"/><text class="t" x="12" y="17.700">MR_Loop_Rip_Panel_Wrap</text><use href="#qq" x="54" y="14.200"/><path class="R" d="M3 29.400H61M3 35.400H61M3 41.400H61M3 47.400H61M3 66H61M3 72H61"/><path class="C" d="M5 23.400h.01"/><path class="K" d="M5 54V60"/><path class="D" d="M64 8h.01M0 23.400V29.400V35.400V41.400V47.400V54V60V66V72"/><text class="v"><tspan x="60" y="9">Output</tspan><tspan x="59" y="30.400">0.00</tspan><tspan x="59" y="36.400">1000</tspan><tspan x="59" y="42.400">1.00</tspan><tspan x="59" y="48.400">0.00</tspan><tspan x="59" y="67">0.00</tspan><tspan x="59" y="73">0.00</tspan></text><text class="l"><tspan x="9" y="24.400">Split Primary Sounds</tspan><tspan x="6" y="30.400">Start Frame Sound</tspan><tspan x="6" y="36.400">End Frame Sound</tspan><tspan x="6" y="42.400">Frequency</tspan><tspan x="6" y="48.400">Loop Scale</tspan><tspan x="9" y="55">Extend Ends</tspan><tspan x="9" y="61">Reset Ramp</tspan><tspan x="6" y="67">Fill</tspan><tspan x="6" y="73">Trim</tspan></text></g>
<g id="l3" transform="translate(656,769)"><rect class="d" width="69" height="63"/><rect class="h" width="69" height="5.500"/><text class="t" x="7" y="3.800">MR_Loop_Smoothing_Noise</text><use href="#i" x="63"/><rect class="s" x="3" y="20.200" width="63" height="5"/><use href="#pp" x="3" y="20.200"/><text class="t" x="12" y="23.700">MR_Loop_Smoothing_Noise</text><use href="#qq" x="59" y="20.200"/><path class="R" d="M3 29.400H66M3 35.400H66M3 41.400H66M3 47.400H66M3 53.400H66M3 59.400H66"/><path class="A" d="M3 53.400H33"/><path class="Y" d="M69 8h.01"/><path class="D" d="M69 14h.01M0 29.400V35.400V41.400V47.400V53.400V59.400"/><text class="v"><tspan x="65" y="9">Color</tspan><tspan x="65" y="15">Fac</tspan><tspan x="64" y="30.400">0.00</tspan><tspan x="64" y="36.400">1000</tspan><tspan x="64" y="42.400">0.00</tspan><tspan x="64" y="48.400">0.00</tspan><tspan x="64" y="54.400">0.50</tspan><tspan x="64" y="60.400">0.00</tspan></text><text class="l"><tspan x="6" y="30.400">Speed Ramp</tspan><tspan x="6" y="36.400">Noise Scale</tspan><tspan x="6" y="42.400">Noise Scale</tspan><tspan x="6" y="48.400">Noise Detail</tspan><tspan x="6" y="54.400">Noise Roughness</tspan><tspan x="6" y="60.400">Noise Distortion</tspan></text></g>

<g id="sa1" transform="translate(29,773)"><rect class="d o" width="71" height="101"/><rect class="h" width="71" height="5.500"/><use href="#sm"/><path class="D" d="M71 9.700V15.700V21.700V27.700V33.700"/><text class="v"><tspan x="66" y="10.700">Dat</tspan><tspan x="66" y="16.700">Angle</tspan><tspan x="66" y="22.700">Curve</tspan><tspan x="66" y="28.700">Color</tspan><tspan x="66" y="34.700">Boolean</tspan></text><text class="t" x="7" y="3.800">MR_SampleUV_Nearest</text><use href="#i" x="65"/><rect class="s" x="3" y="39.200" width="65" height="5"/><use href="#pp" x="3" y="39.200"/><text class="t" x="12" y="42.700">MR_SampleUV_Nearest</text><use href="#qq" x="62" y="39.200"/></g>
<g id="sa2" transform="translate(115,773)"><rect class="d o" width="72" height="101"/><rect class="h" width="72" height="5.500"/><use href="#sm"/><path class="D" d="M72 9.700V15.700V21.700V27.700V33.700"/><text class="v"><tspan x="67" y="10.700">Dat</tspan><tspan x="67" y="16.700">Angle</tspan><tspan x="67" y="22.700">Curve</tspan><tspan x="67" y="28.700">Color</tspan><tspan x="67" y="34.700">Boolean</tspan></text><text class="t" x="7" y="3.800">MR_SampleBig_Nearest</text><use href="#i" x="66"/><rect class="s" x="3" y="39.200" width="65" height="5"/><use href="#pp" x="3" y="39.200"/><text class="t" x="12" y="42.700">MR_SampleBig_Nearest</text><use href="#qq" x="63" y="39.200"/></g>
<g id="sa3" transform="translate(201,773)"><rect class="d o" width="67" height="101"/><rect class="h" width="67" height="5.500"/><use href="#sm"/><path class="D" d="M67 9.700V15.700V21.700V27.700V33.700"/><text class="v"><tspan x="63" y="10.700">Dat</tspan><tspan x="63" y="16.700">Angle</tspan><tspan x="63" y="22.700">Curve</tspan><tspan x="63" y="28.700">Color</tspan><tspan x="63" y="34.700">Boolean</tspan></text><text class="t" x="7" y="3.800">MR_SampleDisp_Nearest</text><use href="#i" x="61"/><rect class="s" x="3" y="39.200" width="61" height="5"/><use href="#pp" x="3" y="39.200"/><text class="t" x="12" y="42.700">MR_SampleDisp_Nearest</text><use href="#qq" x="58" y="39.200"/></g>
<g id="sa4" transform="translate(282,773)"><rect class="d o" width="78" height="101"/><rect class="h" width="78" height="5.500"/><use href="#sm"/><path class="D" d="M78 9.700V15.700V21.700V27.700V33.700"/><text class="v"><tspan x="74" y="10.700">Dat</tspan><tspan x="74" y="16.700">Angle</tspan><tspan x="74" y="22.700">Curve</tspan><tspan x="74" y="28.700">Color</tspan><tspan x="74" y="34.700">Boolean</tspan></text><text class="t" x="7" y="3.800">MR_SampleDiskCurve_Nearest</text><use href="#i" x="72"/><rect class="s" x="3" y="39.200" width="72" height="5"/><use href="#pp" x="3" y="39.200"/><text class="t" x="12" y="42.700">MR_SampleDiskCurve_Nearest</text><use href="#qq" x="69" y="39.200"/></g>
</svg>
